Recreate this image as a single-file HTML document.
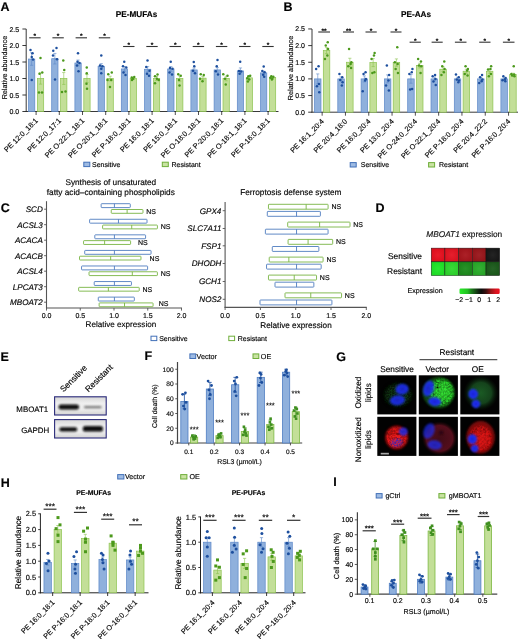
<!DOCTYPE html>
<html lang="en"><head><meta charset="utf-8"><title>Figure</title>
<style>
html,body{margin:0;padding:0;background:#fff;}
body{width:520px;height:639px;overflow:hidden;}
svg{display:block;font-family:"Liberation Sans",Arial,Helvetica,sans-serif;}
svg text{stroke:#111;stroke-width:0.16px;text-rendering:geometricPrecision;}
</style></head><body>
<svg width="520" height="639" viewBox="0 0 520 639">
<rect x="0" y="0" width="520" height="639" fill="#fff"/>
<text x="0.4" y="11" font-size="12.5" font-weight="bold" fill="#000">A</text>
<text x="136.5" y="17.1" font-size="8.2" text-anchor="middle" font-weight="bold">PE-MUFAs</text>
<line x1="26.2" y1="29" x2="26.2" y2="111.9" stroke="#222" stroke-width="0.9"/>
<line x1="25.8" y1="111.5" x2="278.5" y2="111.5" stroke="#222" stroke-width="0.9"/>
<line x1="22.4" y1="111.5" x2="26.2" y2="111.5" stroke="#222" stroke-width="0.9"/>
<text x="19.2" y="114" font-size="7" text-anchor="end">0.0</text>
<line x1="22.4" y1="95" x2="26.2" y2="95" stroke="#222" stroke-width="0.9"/>
<text x="19.2" y="97.5" font-size="7" text-anchor="end">0.5</text>
<line x1="22.4" y1="78.5" x2="26.2" y2="78.5" stroke="#222" stroke-width="0.9"/>
<text x="19.2" y="81" font-size="7" text-anchor="end">1.0</text>
<line x1="22.4" y1="62" x2="26.2" y2="62" stroke="#222" stroke-width="0.9"/>
<text x="19.2" y="64.5" font-size="7" text-anchor="end">1.5</text>
<line x1="22.4" y1="45.5" x2="26.2" y2="45.5" stroke="#222" stroke-width="0.9"/>
<text x="19.2" y="48" font-size="7" text-anchor="end">2.0</text>
<line x1="22.4" y1="29" x2="26.2" y2="29" stroke="#222" stroke-width="0.9"/>
<text x="19.2" y="31.5" font-size="7" text-anchor="end">2.5</text>
<text x="6.8" y="67.6" font-size="7.2" text-anchor="middle" transform="rotate(-90 6.8 67.6)">Relative abundance</text>
<rect x="28.5" y="59.03" width="6.3" height="52.47" fill="#8fb0dc" stroke="#5c88c8" stroke-width="0.7"/>
<line x1="31.65" y1="52.76" x2="31.65" y2="65.3" stroke="#5c88c8" stroke-width="0.6"/>
<line x1="30.05" y1="52.76" x2="33.25" y2="52.76" stroke="#5c88c8" stroke-width="0.6"/>
<line x1="30.05" y1="65.3" x2="33.25" y2="65.3" stroke="#5c88c8" stroke-width="0.6"/>
<circle cx="30.5" cy="50" r="1.25" fill="#1d4f9e"/>
<circle cx="32.5" cy="53.25" r="1.25" fill="#1d4f9e"/>
<circle cx="31.75" cy="57" r="1.25" fill="#1d4f9e"/>
<circle cx="33" cy="59.5" r="1.25" fill="#1d4f9e"/>
<circle cx="31.75" cy="80" r="1.25" fill="#1d4f9e"/>
<rect x="37.4" y="78.5" width="6.3" height="33" fill="#c3df98" stroke="#8cc34f" stroke-width="0.7"/>
<line x1="40.55" y1="72.89" x2="40.55" y2="84.11" stroke="#8cc34f" stroke-width="0.6"/>
<line x1="38.95" y1="72.89" x2="42.15" y2="72.89" stroke="#8cc34f" stroke-width="0.6"/>
<line x1="38.95" y1="84.11" x2="42.15" y2="84.11" stroke="#8cc34f" stroke-width="0.6"/>
<circle cx="40.5" cy="58" r="1.25" fill="#4c991c"/>
<circle cx="39.5" cy="73.75" r="1.25" fill="#4c991c"/>
<circle cx="42.25" cy="72.5" r="1.25" fill="#4c991c"/>
<circle cx="39" cy="92.5" r="1.25" fill="#4c991c"/>
<circle cx="42" cy="92.5" r="1.25" fill="#4c991c"/>
<line x1="36.1" y1="111.5" x2="36.1" y2="115" stroke="#222" stroke-width="0.8"/>
<text x="38.4" y="121.2" font-size="7.3" text-anchor="end" transform="rotate(-45 38.4 121.2)">PE 12:0_18:1</text>
<line x1="29.2" y1="37.8" x2="40.6" y2="37.8" stroke="#333" stroke-width="1.1"/>
<text x="34.9" y="37.8" font-size="6.6" text-anchor="middle" font-weight="bold" fill="#000">*</text>
<rect x="51.7" y="58.7" width="6.3" height="52.8" fill="#8fb0dc" stroke="#5c88c8" stroke-width="0.7"/>
<line x1="54.85" y1="53.42" x2="54.85" y2="63.98" stroke="#5c88c8" stroke-width="0.6"/>
<line x1="53.25" y1="53.42" x2="56.45" y2="53.42" stroke="#5c88c8" stroke-width="0.6"/>
<line x1="53.25" y1="63.98" x2="56.45" y2="63.98" stroke="#5c88c8" stroke-width="0.6"/>
<circle cx="56.5" cy="48" r="1.25" fill="#1d4f9e"/>
<circle cx="53.25" cy="50.75" r="1.25" fill="#1d4f9e"/>
<circle cx="53" cy="55.5" r="1.25" fill="#1d4f9e"/>
<circle cx="57" cy="59.25" r="1.25" fill="#1d4f9e"/>
<circle cx="55" cy="79.5" r="1.25" fill="#1d4f9e"/>
<rect x="60.6" y="78.5" width="6.3" height="33" fill="#c3df98" stroke="#8cc34f" stroke-width="0.7"/>
<line x1="63.75" y1="72.56" x2="63.75" y2="84.44" stroke="#8cc34f" stroke-width="0.6"/>
<line x1="62.15" y1="72.56" x2="65.35" y2="72.56" stroke="#8cc34f" stroke-width="0.6"/>
<line x1="62.15" y1="84.44" x2="65.35" y2="84.44" stroke="#8cc34f" stroke-width="0.6"/>
<circle cx="63.25" cy="60.5" r="1.25" fill="#4c991c"/>
<circle cx="64.25" cy="70" r="1.25" fill="#4c991c"/>
<circle cx="62" cy="92" r="1.25" fill="#4c991c"/>
<circle cx="65.5" cy="91.5" r="1.25" fill="#4c991c"/>
<line x1="59.3" y1="111.5" x2="59.3" y2="115" stroke="#222" stroke-width="0.8"/>
<text x="61.6" y="121.2" font-size="7.3" text-anchor="end" transform="rotate(-45 61.6 121.2)">PE 12:0_17:1</text>
<line x1="52.4" y1="37.8" x2="63.8" y2="37.8" stroke="#333" stroke-width="1.1"/>
<text x="58.1" y="37.8" font-size="6.6" text-anchor="middle" font-weight="bold" fill="#000">*</text>
<rect x="74.9" y="62.99" width="6.3" height="48.51" fill="#8fb0dc" stroke="#5c88c8" stroke-width="0.7"/>
<line x1="78.05" y1="60.02" x2="78.05" y2="65.96" stroke="#5c88c8" stroke-width="0.6"/>
<line x1="76.45" y1="60.02" x2="79.65" y2="60.02" stroke="#5c88c8" stroke-width="0.6"/>
<line x1="76.45" y1="65.96" x2="79.65" y2="65.96" stroke="#5c88c8" stroke-width="0.6"/>
<circle cx="78" cy="53.25" r="1.25" fill="#1d4f9e"/>
<circle cx="77.5" cy="61.75" r="1.25" fill="#1d4f9e"/>
<circle cx="79.5" cy="63" r="1.25" fill="#1d4f9e"/>
<circle cx="77" cy="65.5" r="1.25" fill="#1d4f9e"/>
<circle cx="78.5" cy="71.25" r="1.25" fill="#1d4f9e"/>
<rect x="83.8" y="78.5" width="6.3" height="33" fill="#c3df98" stroke="#8cc34f" stroke-width="0.7"/>
<line x1="86.95" y1="74.54" x2="86.95" y2="82.46" stroke="#8cc34f" stroke-width="0.6"/>
<line x1="85.35" y1="74.54" x2="88.55" y2="74.54" stroke="#8cc34f" stroke-width="0.6"/>
<line x1="85.35" y1="82.46" x2="88.55" y2="82.46" stroke="#8cc34f" stroke-width="0.6"/>
<circle cx="86.75" cy="67.5" r="1.25" fill="#4c991c"/>
<circle cx="86.75" cy="73.25" r="1.25" fill="#4c991c"/>
<circle cx="86.5" cy="83.75" r="1.25" fill="#4c991c"/>
<circle cx="87" cy="88.75" r="1.25" fill="#4c991c"/>
<line x1="82.5" y1="111.5" x2="82.5" y2="115" stroke="#222" stroke-width="0.8"/>
<text x="84.8" y="121.2" font-size="7.3" text-anchor="end" transform="rotate(-45 84.8 121.2)">PE O-22:1_18:1</text>
<line x1="75.6" y1="37.8" x2="87" y2="37.8" stroke="#333" stroke-width="1.1"/>
<text x="81.3" y="37.8" font-size="6.6" text-anchor="middle" font-weight="bold" fill="#000">*</text>
<rect x="98.1" y="66.29" width="6.3" height="45.21" fill="#8fb0dc" stroke="#5c88c8" stroke-width="0.7"/>
<line x1="101.25" y1="63.65" x2="101.25" y2="68.93" stroke="#5c88c8" stroke-width="0.6"/>
<line x1="99.65" y1="63.65" x2="102.85" y2="63.65" stroke="#5c88c8" stroke-width="0.6"/>
<line x1="99.65" y1="68.93" x2="102.85" y2="68.93" stroke="#5c88c8" stroke-width="0.6"/>
<circle cx="101.25" cy="55.5" r="1.25" fill="#1d4f9e"/>
<circle cx="100" cy="65.5" r="1.25" fill="#1d4f9e"/>
<circle cx="102.5" cy="66.25" r="1.25" fill="#1d4f9e"/>
<circle cx="101.25" cy="68.75" r="1.25" fill="#1d4f9e"/>
<circle cx="101.25" cy="73.25" r="1.25" fill="#1d4f9e"/>
<rect x="107" y="78.5" width="6.3" height="33" fill="#c3df98" stroke="#8cc34f" stroke-width="0.7"/>
<line x1="110.15" y1="76.19" x2="110.15" y2="80.81" stroke="#8cc34f" stroke-width="0.6"/>
<line x1="108.55" y1="76.19" x2="111.75" y2="76.19" stroke="#8cc34f" stroke-width="0.6"/>
<line x1="108.55" y1="80.81" x2="111.75" y2="80.81" stroke="#8cc34f" stroke-width="0.6"/>
<circle cx="111.75" cy="72.5" r="1.25" fill="#4c991c"/>
<circle cx="108.25" cy="74.25" r="1.25" fill="#4c991c"/>
<circle cx="107.5" cy="80" r="1.25" fill="#4c991c"/>
<circle cx="111.25" cy="80" r="1.25" fill="#4c991c"/>
<circle cx="110" cy="87" r="1.25" fill="#4c991c"/>
<line x1="105.7" y1="111.5" x2="105.7" y2="115" stroke="#222" stroke-width="0.8"/>
<text x="108" y="121.2" font-size="7.3" text-anchor="end" transform="rotate(-45 108 121.2)">PE O-20:1_18:1</text>
<line x1="98.8" y1="37.8" x2="110.2" y2="37.8" stroke="#333" stroke-width="1.1"/>
<text x="104.5" y="37.8" font-size="6.6" text-anchor="middle" font-weight="bold" fill="#000">*</text>
<rect x="121.3" y="68.93" width="6.3" height="42.57" fill="#8fb0dc" stroke="#5c88c8" stroke-width="0.7"/>
<line x1="124.45" y1="66.62" x2="124.45" y2="71.24" stroke="#5c88c8" stroke-width="0.6"/>
<line x1="122.85" y1="66.62" x2="126.05" y2="66.62" stroke="#5c88c8" stroke-width="0.6"/>
<line x1="122.85" y1="71.24" x2="126.05" y2="71.24" stroke="#5c88c8" stroke-width="0.6"/>
<circle cx="124.25" cy="61.75" r="1.25" fill="#1d4f9e"/>
<circle cx="123" cy="66.25" r="1.25" fill="#1d4f9e"/>
<circle cx="126.25" cy="67.5" r="1.25" fill="#1d4f9e"/>
<circle cx="123.5" cy="72.5" r="1.25" fill="#1d4f9e"/>
<circle cx="125.5" cy="75" r="1.25" fill="#1d4f9e"/>
<rect x="130.2" y="78.5" width="6.3" height="33" fill="#c3df98" stroke="#8cc34f" stroke-width="0.7"/>
<line x1="133.35" y1="77.51" x2="133.35" y2="79.49" stroke="#8cc34f" stroke-width="0.6"/>
<line x1="131.75" y1="77.51" x2="134.95" y2="77.51" stroke="#8cc34f" stroke-width="0.6"/>
<line x1="131.75" y1="79.49" x2="134.95" y2="79.49" stroke="#8cc34f" stroke-width="0.6"/>
<circle cx="131.75" cy="77.5" r="1.25" fill="#4c991c"/>
<circle cx="134.25" cy="77" r="1.25" fill="#4c991c"/>
<circle cx="133" cy="78.75" r="1.25" fill="#4c991c"/>
<circle cx="132" cy="80" r="1.25" fill="#4c991c"/>
<line x1="128.9" y1="111.5" x2="128.9" y2="115" stroke="#222" stroke-width="0.8"/>
<text x="131.2" y="121.2" font-size="7.3" text-anchor="end" transform="rotate(-45 131.2 121.2)">PE P-18:0_18:1</text>
<line x1="123.1" y1="46.5" x2="134.5" y2="46.5" stroke="#333" stroke-width="1.1"/>
<text x="128.8" y="46.5" font-size="6.6" text-anchor="middle" font-weight="bold" fill="#000">*</text>
<rect x="144.5" y="69.26" width="6.3" height="42.24" fill="#8fb0dc" stroke="#5c88c8" stroke-width="0.7"/>
<line x1="147.65" y1="66.62" x2="147.65" y2="71.9" stroke="#5c88c8" stroke-width="0.6"/>
<line x1="146.05" y1="66.62" x2="149.25" y2="66.62" stroke="#5c88c8" stroke-width="0.6"/>
<line x1="146.05" y1="71.9" x2="149.25" y2="71.9" stroke="#5c88c8" stroke-width="0.6"/>
<circle cx="147.5" cy="60.5" r="1.25" fill="#1d4f9e"/>
<circle cx="146.25" cy="67" r="1.25" fill="#1d4f9e"/>
<circle cx="149.5" cy="70.75" r="1.25" fill="#1d4f9e"/>
<circle cx="147" cy="73.75" r="1.25" fill="#1d4f9e"/>
<circle cx="149" cy="75.75" r="1.25" fill="#1d4f9e"/>
<rect x="153.4" y="78.5" width="6.3" height="33" fill="#c3df98" stroke="#8cc34f" stroke-width="0.7"/>
<line x1="156.55" y1="76.52" x2="156.55" y2="80.48" stroke="#8cc34f" stroke-width="0.6"/>
<line x1="154.95" y1="76.52" x2="158.15" y2="76.52" stroke="#8cc34f" stroke-width="0.6"/>
<line x1="154.95" y1="80.48" x2="158.15" y2="80.48" stroke="#8cc34f" stroke-width="0.6"/>
<circle cx="157.5" cy="74.5" r="1.25" fill="#4c991c"/>
<circle cx="155" cy="76.25" r="1.25" fill="#4c991c"/>
<circle cx="157" cy="78.75" r="1.25" fill="#4c991c"/>
<circle cx="158.75" cy="80" r="1.25" fill="#4c991c"/>
<circle cx="155" cy="83.25" r="1.25" fill="#4c991c"/>
<line x1="152.1" y1="111.5" x2="152.1" y2="115" stroke="#222" stroke-width="0.8"/>
<text x="154.4" y="121.2" font-size="7.3" text-anchor="end" transform="rotate(-45 154.4 121.2)">PE 16:0_18:1</text>
<line x1="146.3" y1="46.5" x2="157.7" y2="46.5" stroke="#333" stroke-width="1.1"/>
<text x="152" y="46.5" font-size="6.6" text-anchor="middle" font-weight="bold" fill="#000">*</text>
<rect x="167.7" y="68.93" width="6.3" height="42.57" fill="#8fb0dc" stroke="#5c88c8" stroke-width="0.7"/>
<line x1="170.85" y1="66.62" x2="170.85" y2="71.24" stroke="#5c88c8" stroke-width="0.6"/>
<line x1="169.25" y1="66.62" x2="172.45" y2="66.62" stroke="#5c88c8" stroke-width="0.6"/>
<line x1="169.25" y1="71.24" x2="172.45" y2="71.24" stroke="#5c88c8" stroke-width="0.6"/>
<circle cx="170.75" cy="61.75" r="1.25" fill="#1d4f9e"/>
<circle cx="170" cy="68" r="1.25" fill="#1d4f9e"/>
<circle cx="172.5" cy="68.75" r="1.25" fill="#1d4f9e"/>
<circle cx="169.5" cy="72.5" r="1.25" fill="#1d4f9e"/>
<circle cx="172" cy="74.5" r="1.25" fill="#1d4f9e"/>
<rect x="176.6" y="78.5" width="6.3" height="33" fill="#c3df98" stroke="#8cc34f" stroke-width="0.7"/>
<line x1="179.75" y1="75.86" x2="179.75" y2="81.14" stroke="#8cc34f" stroke-width="0.6"/>
<line x1="178.15" y1="75.86" x2="181.35" y2="75.86" stroke="#8cc34f" stroke-width="0.6"/>
<line x1="178.15" y1="81.14" x2="181.35" y2="81.14" stroke="#8cc34f" stroke-width="0.6"/>
<circle cx="178.25" cy="74.25" r="1.25" fill="#4c991c"/>
<circle cx="180.75" cy="75.75" r="1.25" fill="#4c991c"/>
<circle cx="179" cy="80" r="1.25" fill="#4c991c"/>
<circle cx="179.5" cy="85.5" r="1.25" fill="#4c991c"/>
<line x1="175.3" y1="111.5" x2="175.3" y2="115" stroke="#222" stroke-width="0.8"/>
<text x="177.6" y="121.2" font-size="7.3" text-anchor="end" transform="rotate(-45 177.6 121.2)">PE 15:0_18:1</text>
<line x1="169.5" y1="46.5" x2="180.9" y2="46.5" stroke="#333" stroke-width="1.1"/>
<text x="175.2" y="46.5" font-size="6.6" text-anchor="middle" font-weight="bold" fill="#000">*</text>
<rect x="190.9" y="69.92" width="6.3" height="41.58" fill="#8fb0dc" stroke="#5c88c8" stroke-width="0.7"/>
<line x1="194.05" y1="67.94" x2="194.05" y2="71.9" stroke="#5c88c8" stroke-width="0.6"/>
<line x1="192.45" y1="67.94" x2="195.65" y2="67.94" stroke="#5c88c8" stroke-width="0.6"/>
<line x1="192.45" y1="71.9" x2="195.65" y2="71.9" stroke="#5c88c8" stroke-width="0.6"/>
<circle cx="193.75" cy="62" r="1.25" fill="#1d4f9e"/>
<circle cx="194.25" cy="66.25" r="1.25" fill="#1d4f9e"/>
<circle cx="193" cy="70.75" r="1.25" fill="#1d4f9e"/>
<circle cx="195" cy="73.25" r="1.25" fill="#1d4f9e"/>
<rect x="199.8" y="78.17" width="6.3" height="33.33" fill="#c3df98" stroke="#8cc34f" stroke-width="0.7"/>
<line x1="202.95" y1="76.52" x2="202.95" y2="79.82" stroke="#8cc34f" stroke-width="0.6"/>
<line x1="201.35" y1="76.52" x2="204.55" y2="76.52" stroke="#8cc34f" stroke-width="0.6"/>
<line x1="201.35" y1="79.82" x2="204.55" y2="79.82" stroke="#8cc34f" stroke-width="0.6"/>
<circle cx="200.75" cy="74.25" r="1.25" fill="#4c991c"/>
<circle cx="203.75" cy="75" r="1.25" fill="#4c991c"/>
<circle cx="200" cy="78.75" r="1.25" fill="#4c991c"/>
<circle cx="202.5" cy="81.25" r="1.25" fill="#4c991c"/>
<line x1="198.5" y1="111.5" x2="198.5" y2="115" stroke="#222" stroke-width="0.8"/>
<text x="200.8" y="121.2" font-size="7.3" text-anchor="end" transform="rotate(-45 200.8 121.2)">PE O-18:0_18:1</text>
<line x1="192.7" y1="46.5" x2="204.1" y2="46.5" stroke="#333" stroke-width="1.1"/>
<text x="198.4" y="46.5" font-size="6.6" text-anchor="middle" font-weight="bold" fill="#000">*</text>
<rect x="214.1" y="69.92" width="6.3" height="41.58" fill="#8fb0dc" stroke="#5c88c8" stroke-width="0.7"/>
<line x1="217.25" y1="67.61" x2="217.25" y2="72.23" stroke="#5c88c8" stroke-width="0.6"/>
<line x1="215.65" y1="67.61" x2="218.85" y2="67.61" stroke="#5c88c8" stroke-width="0.6"/>
<line x1="215.65" y1="72.23" x2="218.85" y2="72.23" stroke="#5c88c8" stroke-width="0.6"/>
<circle cx="217.5" cy="60" r="1.25" fill="#1d4f9e"/>
<circle cx="216.75" cy="66.25" r="1.25" fill="#1d4f9e"/>
<circle cx="215.75" cy="71.25" r="1.25" fill="#1d4f9e"/>
<circle cx="218" cy="74.5" r="1.25" fill="#1d4f9e"/>
<rect x="223" y="78.5" width="6.3" height="33" fill="#c3df98" stroke="#8cc34f" stroke-width="0.7"/>
<line x1="226.15" y1="76.19" x2="226.15" y2="80.81" stroke="#8cc34f" stroke-width="0.6"/>
<line x1="224.55" y1="76.19" x2="227.75" y2="76.19" stroke="#8cc34f" stroke-width="0.6"/>
<line x1="224.55" y1="80.81" x2="227.75" y2="80.81" stroke="#8cc34f" stroke-width="0.6"/>
<circle cx="223.25" cy="74.25" r="1.25" fill="#4c991c"/>
<circle cx="227.5" cy="75.75" r="1.25" fill="#4c991c"/>
<circle cx="225" cy="78.75" r="1.25" fill="#4c991c"/>
<circle cx="225.75" cy="84.5" r="1.25" fill="#4c991c"/>
<line x1="221.7" y1="111.5" x2="221.7" y2="115" stroke="#222" stroke-width="0.8"/>
<text x="224" y="121.2" font-size="7.3" text-anchor="end" transform="rotate(-45 224 121.2)">PE P-20:0_18:1</text>
<line x1="215.9" y1="46.5" x2="227.3" y2="46.5" stroke="#333" stroke-width="1.1"/>
<text x="221.6" y="46.5" font-size="6.6" text-anchor="middle" font-weight="bold" fill="#000">*</text>
<rect x="237.3" y="70.91" width="6.3" height="40.59" fill="#8fb0dc" stroke="#5c88c8" stroke-width="0.7"/>
<line x1="240.45" y1="67.94" x2="240.45" y2="73.88" stroke="#5c88c8" stroke-width="0.6"/>
<line x1="238.85" y1="67.94" x2="242.05" y2="67.94" stroke="#5c88c8" stroke-width="0.6"/>
<line x1="238.85" y1="73.88" x2="242.05" y2="73.88" stroke="#5c88c8" stroke-width="0.6"/>
<circle cx="240.2" cy="61.7" r="1.25" fill="#1d4f9e"/>
<circle cx="239" cy="71" r="1.25" fill="#1d4f9e"/>
<circle cx="241.2" cy="71.5" r="1.25" fill="#1d4f9e"/>
<circle cx="239.6" cy="73.8" r="1.25" fill="#1d4f9e"/>
<rect x="246.2" y="77.84" width="6.3" height="33.66" fill="#c3df98" stroke="#8cc34f" stroke-width="0.7"/>
<line x1="249.35" y1="76.52" x2="249.35" y2="79.16" stroke="#8cc34f" stroke-width="0.6"/>
<line x1="247.75" y1="76.52" x2="250.95" y2="76.52" stroke="#8cc34f" stroke-width="0.6"/>
<line x1="247.75" y1="79.16" x2="250.95" y2="79.16" stroke="#8cc34f" stroke-width="0.6"/>
<circle cx="248.3" cy="76.2" r="1.25" fill="#4c991c"/>
<circle cx="250.2" cy="75.8" r="1.25" fill="#4c991c"/>
<circle cx="247.3" cy="78.3" r="1.25" fill="#4c991c"/>
<circle cx="249.2" cy="79.6" r="1.25" fill="#4c991c"/>
<circle cx="247.9" cy="81.5" r="1.25" fill="#4c991c"/>
<line x1="244.9" y1="111.5" x2="244.9" y2="115" stroke="#222" stroke-width="0.8"/>
<text x="247.2" y="121.2" font-size="7.3" text-anchor="end" transform="rotate(-45 247.2 121.2)">PE O-18:1_18:1</text>
<line x1="239.1" y1="46.5" x2="250.5" y2="46.5" stroke="#333" stroke-width="1.1"/>
<text x="244.8" y="46.5" font-size="6.6" text-anchor="middle" font-weight="bold" fill="#000">*</text>
<rect x="260.5" y="72.89" width="6.3" height="38.61" fill="#8fb0dc" stroke="#5c88c8" stroke-width="0.7"/>
<line x1="263.65" y1="71.24" x2="263.65" y2="74.54" stroke="#5c88c8" stroke-width="0.6"/>
<line x1="262.05" y1="71.24" x2="265.25" y2="71.24" stroke="#5c88c8" stroke-width="0.6"/>
<line x1="262.05" y1="74.54" x2="265.25" y2="74.54" stroke="#5c88c8" stroke-width="0.6"/>
<circle cx="263.7" cy="66.5" r="1.25" fill="#1d4f9e"/>
<circle cx="262.3" cy="71" r="1.25" fill="#1d4f9e"/>
<circle cx="264.6" cy="72.3" r="1.25" fill="#1d4f9e"/>
<circle cx="263.1" cy="74.8" r="1.25" fill="#1d4f9e"/>
<circle cx="264.2" cy="76.7" r="1.25" fill="#1d4f9e"/>
<rect x="269.4" y="77.51" width="6.3" height="33.99" fill="#c3df98" stroke="#8cc34f" stroke-width="0.7"/>
<line x1="272.55" y1="76.85" x2="272.55" y2="78.17" stroke="#8cc34f" stroke-width="0.6"/>
<line x1="270.95" y1="76.85" x2="274.15" y2="76.85" stroke="#8cc34f" stroke-width="0.6"/>
<line x1="270.95" y1="78.17" x2="274.15" y2="78.17" stroke="#8cc34f" stroke-width="0.6"/>
<circle cx="271.3" cy="76.3" r="1.25" fill="#4c991c"/>
<circle cx="273.3" cy="76.7" r="1.25" fill="#4c991c"/>
<circle cx="270.4" cy="77.7" r="1.25" fill="#4c991c"/>
<circle cx="272.3" cy="78.7" r="1.25" fill="#4c991c"/>
<circle cx="271.9" cy="79.6" r="1.25" fill="#4c991c"/>
<line x1="268.1" y1="111.5" x2="268.1" y2="115" stroke="#222" stroke-width="0.8"/>
<text x="270.4" y="121.2" font-size="7.3" text-anchor="end" transform="rotate(-45 270.4 121.2)">PE P-16:0_18:1</text>
<line x1="262.3" y1="46.5" x2="273.7" y2="46.5" stroke="#333" stroke-width="1.1"/>
<text x="268" y="46.5" font-size="6.6" text-anchor="middle" font-weight="bold" fill="#000">*</text>
<rect x="83.8" y="162.2" width="6" height="4.4" fill="#9ebbe3" stroke="#4270b8" stroke-width="1"/>
<text x="92" y="166.6" font-size="7">Sensitive</text>
<rect x="162.3" y="162.2" width="6" height="4.4" fill="#c9e3a2" stroke="#6fae3a" stroke-width="1"/>
<text x="171.5" y="166.6" font-size="7">Resistant</text>
<text x="283.6" y="11" font-size="12.5" font-weight="bold" fill="#000">B</text>
<text x="416" y="17.1" font-size="8.2" text-anchor="middle" font-weight="bold">PE-AAs</text>
<line x1="312" y1="29" x2="312" y2="112.6" stroke="#222" stroke-width="0.9"/>
<line x1="311.6" y1="112.2" x2="518" y2="112.2" stroke="#222" stroke-width="0.9"/>
<line x1="308.2" y1="112.2" x2="312" y2="112.2" stroke="#222" stroke-width="0.9"/>
<text x="305" y="114.7" font-size="7" text-anchor="end">0.0</text>
<line x1="308.2" y1="95.55" x2="312" y2="95.55" stroke="#222" stroke-width="0.9"/>
<text x="305" y="98.05" font-size="7" text-anchor="end">0.5</text>
<line x1="308.2" y1="78.9" x2="312" y2="78.9" stroke="#222" stroke-width="0.9"/>
<text x="305" y="81.4" font-size="7" text-anchor="end">1.0</text>
<line x1="308.2" y1="62.25" x2="312" y2="62.25" stroke="#222" stroke-width="0.9"/>
<text x="305" y="64.75" font-size="7" text-anchor="end">1.5</text>
<line x1="308.2" y1="45.6" x2="312" y2="45.6" stroke="#222" stroke-width="0.9"/>
<text x="305" y="48.1" font-size="7" text-anchor="end">2.0</text>
<line x1="308.2" y1="28.95" x2="312" y2="28.95" stroke="#222" stroke-width="0.9"/>
<text x="305" y="31.45" font-size="7" text-anchor="end">2.5</text>
<text x="293" y="68" font-size="7.3" text-anchor="middle" transform="rotate(-90 293 68)">Relative abundance</text>
<rect x="314.5" y="78.9" width="6.5" height="33.3" fill="#8fb0dc" stroke="#5c88c8" stroke-width="0.7"/>
<line x1="317.75" y1="73.91" x2="317.75" y2="83.9" stroke="#5c88c8" stroke-width="0.6"/>
<line x1="316.15" y1="73.91" x2="319.35" y2="73.91" stroke="#5c88c8" stroke-width="0.6"/>
<line x1="316.15" y1="83.9" x2="319.35" y2="83.9" stroke="#5c88c8" stroke-width="0.6"/>
<circle cx="318.55" cy="66.25" r="1.25" fill="#1d4f9e"/>
<circle cx="316.15" cy="68.91" r="1.25" fill="#1d4f9e"/>
<circle cx="318.95" cy="83.9" r="1.25" fill="#1d4f9e"/>
<circle cx="316.95" cy="86.23" r="1.25" fill="#1d4f9e"/>
<circle cx="319.25" cy="92.22" r="1.25" fill="#1d4f9e"/>
<rect x="323.3" y="50.6" width="6.5" height="61.6" fill="#c3df98" stroke="#8cc34f" stroke-width="0.7"/>
<line x1="326.55" y1="47.6" x2="326.55" y2="53.59" stroke="#8cc34f" stroke-width="0.6"/>
<line x1="324.95" y1="47.6" x2="328.15" y2="47.6" stroke="#8cc34f" stroke-width="0.6"/>
<line x1="324.95" y1="53.59" x2="328.15" y2="53.59" stroke="#8cc34f" stroke-width="0.6"/>
<circle cx="327.75" cy="42.27" r="1.25" fill="#4c991c"/>
<circle cx="325.75" cy="45.6" r="1.25" fill="#4c991c"/>
<circle cx="328.05" cy="48.93" r="1.25" fill="#4c991c"/>
<circle cx="327.35" cy="55.59" r="1.25" fill="#4c991c"/>
<circle cx="324.95" cy="58.92" r="1.25" fill="#4c991c"/>
<line x1="322.15" y1="112.2" x2="322.15" y2="115.7" stroke="#222" stroke-width="0.8"/>
<text x="324.45" y="121.9" font-size="7.3" text-anchor="end" transform="rotate(-45 324.45 121.9)">PE 16:1_20:4</text>
<line x1="318.25" y1="32" x2="330" y2="32" stroke="#333" stroke-width="1.1"/>
<text x="324.12" y="32.9" font-size="6.6" text-anchor="middle" font-weight="bold" fill="#000">**</text>
<rect x="337.8" y="78.9" width="6.5" height="33.3" fill="#8fb0dc" stroke="#5c88c8" stroke-width="0.7"/>
<line x1="341.05" y1="76.9" x2="341.05" y2="80.9" stroke="#5c88c8" stroke-width="0.6"/>
<line x1="339.45" y1="76.9" x2="342.65" y2="76.9" stroke="#5c88c8" stroke-width="0.6"/>
<line x1="339.45" y1="80.9" x2="342.65" y2="80.9" stroke="#5c88c8" stroke-width="0.6"/>
<circle cx="339.45" cy="73.91" r="1.25" fill="#1d4f9e"/>
<circle cx="342.25" cy="77.24" r="1.25" fill="#1d4f9e"/>
<circle cx="340.25" cy="79.9" r="1.25" fill="#1d4f9e"/>
<circle cx="342.55" cy="82.23" r="1.25" fill="#1d4f9e"/>
<circle cx="341.85" cy="85.56" r="1.25" fill="#1d4f9e"/>
<rect x="346.6" y="62.25" width="6.5" height="49.95" fill="#c3df98" stroke="#8cc34f" stroke-width="0.7"/>
<line x1="349.85" y1="58.25" x2="349.85" y2="66.25" stroke="#8cc34f" stroke-width="0.6"/>
<line x1="348.25" y1="58.25" x2="351.45" y2="58.25" stroke="#8cc34f" stroke-width="0.6"/>
<line x1="348.25" y1="66.25" x2="351.45" y2="66.25" stroke="#8cc34f" stroke-width="0.6"/>
<circle cx="349.05" cy="48.93" r="1.25" fill="#4c991c"/>
<circle cx="351.35" cy="62.25" r="1.25" fill="#4c991c"/>
<circle cx="350.65" cy="63.92" r="1.25" fill="#4c991c"/>
<circle cx="348.25" cy="66.25" r="1.25" fill="#4c991c"/>
<circle cx="351.05" cy="67.91" r="1.25" fill="#4c991c"/>
<line x1="345.45" y1="112.2" x2="345.45" y2="115.7" stroke="#222" stroke-width="0.8"/>
<text x="347.75" y="121.9" font-size="7.3" text-anchor="end" transform="rotate(-45 347.75 121.9)">PE 20:4_18:0</text>
<line x1="343" y1="32" x2="354" y2="32" stroke="#333" stroke-width="1.1"/>
<text x="348.5" y="32.9" font-size="6.6" text-anchor="middle" font-weight="bold" fill="#000">**</text>
<rect x="361.1" y="78.9" width="6.5" height="33.3" fill="#8fb0dc" stroke="#5c88c8" stroke-width="0.7"/>
<line x1="364.35" y1="75.9" x2="364.35" y2="81.9" stroke="#5c88c8" stroke-width="0.6"/>
<line x1="362.75" y1="75.9" x2="365.95" y2="75.9" stroke="#5c88c8" stroke-width="0.6"/>
<line x1="362.75" y1="81.9" x2="365.95" y2="81.9" stroke="#5c88c8" stroke-width="0.6"/>
<circle cx="365.55" cy="72.24" r="1.25" fill="#1d4f9e"/>
<circle cx="363.55" cy="73.91" r="1.25" fill="#1d4f9e"/>
<circle cx="365.85" cy="78.9" r="1.25" fill="#1d4f9e"/>
<circle cx="365.15" cy="80.57" r="1.25" fill="#1d4f9e"/>
<circle cx="362.75" cy="91.22" r="1.25" fill="#1d4f9e"/>
<rect x="369.9" y="62.58" width="6.5" height="49.62" fill="#c3df98" stroke="#8cc34f" stroke-width="0.7"/>
<line x1="373.15" y1="58.59" x2="373.15" y2="66.58" stroke="#8cc34f" stroke-width="0.6"/>
<line x1="371.55" y1="58.59" x2="374.75" y2="58.59" stroke="#8cc34f" stroke-width="0.6"/>
<line x1="371.55" y1="66.58" x2="374.75" y2="66.58" stroke="#8cc34f" stroke-width="0.6"/>
<circle cx="374.65" cy="52.93" r="1.25" fill="#4c991c"/>
<circle cx="373.95" cy="55.59" r="1.25" fill="#4c991c"/>
<circle cx="371.55" cy="58.92" r="1.25" fill="#4c991c"/>
<circle cx="374.35" cy="72.24" r="1.25" fill="#4c991c"/>
<circle cx="372.35" cy="72.91" r="1.25" fill="#4c991c"/>
<line x1="368.75" y1="112.2" x2="368.75" y2="115.7" stroke="#222" stroke-width="0.8"/>
<text x="371.05" y="121.9" font-size="7.3" text-anchor="end" transform="rotate(-45 371.05 121.9)">PE 16:0_20:4</text>
<line x1="365.5" y1="32" x2="376.75" y2="32" stroke="#333" stroke-width="1.1"/>
<text x="371.12" y="32.9" font-size="6.6" text-anchor="middle" font-weight="bold" fill="#000">*</text>
<rect x="384.4" y="78.9" width="6.5" height="33.3" fill="#8fb0dc" stroke="#5c88c8" stroke-width="0.7"/>
<line x1="387.65" y1="74.9" x2="387.65" y2="82.9" stroke="#5c88c8" stroke-width="0.6"/>
<line x1="386.05" y1="74.9" x2="389.25" y2="74.9" stroke="#5c88c8" stroke-width="0.6"/>
<line x1="386.05" y1="82.9" x2="389.25" y2="82.9" stroke="#5c88c8" stroke-width="0.6"/>
<circle cx="386.85" cy="65.58" r="1.25" fill="#1d4f9e"/>
<circle cx="389.15" cy="74.9" r="1.25" fill="#1d4f9e"/>
<circle cx="388.45" cy="80.57" r="1.25" fill="#1d4f9e"/>
<circle cx="386.05" cy="85.56" r="1.25" fill="#1d4f9e"/>
<circle cx="388.85" cy="90.56" r="1.25" fill="#1d4f9e"/>
<rect x="393.2" y="62.58" width="6.5" height="49.62" fill="#c3df98" stroke="#8cc34f" stroke-width="0.7"/>
<line x1="396.45" y1="58.92" x2="396.45" y2="66.25" stroke="#8cc34f" stroke-width="0.6"/>
<line x1="394.85" y1="58.92" x2="398.05" y2="58.92" stroke="#8cc34f" stroke-width="0.6"/>
<line x1="394.85" y1="66.25" x2="398.05" y2="66.25" stroke="#8cc34f" stroke-width="0.6"/>
<circle cx="397.25" cy="47.27" r="1.25" fill="#4c991c"/>
<circle cx="394.85" cy="62.25" r="1.25" fill="#4c991c"/>
<circle cx="397.65" cy="63.92" r="1.25" fill="#4c991c"/>
<circle cx="395.65" cy="68.91" r="1.25" fill="#4c991c"/>
<circle cx="397.95" cy="72.91" r="1.25" fill="#4c991c"/>
<line x1="392.05" y1="112.2" x2="392.05" y2="115.7" stroke="#222" stroke-width="0.8"/>
<text x="394.35" y="121.9" font-size="7.3" text-anchor="end" transform="rotate(-45 394.35 121.9)">PE 13:0_20:4</text>
<line x1="390.5" y1="32" x2="401.5" y2="32" stroke="#333" stroke-width="1.1"/>
<text x="396" y="32.9" font-size="6.6" text-anchor="middle" font-weight="bold" fill="#000">*</text>
<rect x="407.7" y="78.9" width="6.5" height="33.3" fill="#8fb0dc" stroke="#5c88c8" stroke-width="0.7"/>
<line x1="410.95" y1="74.57" x2="410.95" y2="83.23" stroke="#5c88c8" stroke-width="0.6"/>
<line x1="409.35" y1="74.57" x2="412.55" y2="74.57" stroke="#5c88c8" stroke-width="0.6"/>
<line x1="409.35" y1="83.23" x2="412.55" y2="83.23" stroke="#5c88c8" stroke-width="0.6"/>
<circle cx="412.45" cy="68.91" r="1.25" fill="#1d4f9e"/>
<circle cx="411.75" cy="72.24" r="1.25" fill="#1d4f9e"/>
<circle cx="409.35" cy="73.91" r="1.25" fill="#1d4f9e"/>
<circle cx="412.15" cy="88.89" r="1.25" fill="#1d4f9e"/>
<circle cx="410.15" cy="89.56" r="1.25" fill="#1d4f9e"/>
<rect x="416.5" y="65.58" width="6.5" height="46.62" fill="#c3df98" stroke="#8cc34f" stroke-width="0.7"/>
<line x1="419.75" y1="63.25" x2="419.75" y2="67.91" stroke="#8cc34f" stroke-width="0.6"/>
<line x1="418.15" y1="63.25" x2="421.35" y2="63.25" stroke="#8cc34f" stroke-width="0.6"/>
<line x1="418.15" y1="67.91" x2="421.35" y2="67.91" stroke="#8cc34f" stroke-width="0.6"/>
<circle cx="418.15" cy="58.92" r="1.25" fill="#4c991c"/>
<circle cx="420.95" cy="61.58" r="1.25" fill="#4c991c"/>
<circle cx="418.95" cy="65.58" r="1.25" fill="#4c991c"/>
<circle cx="421.25" cy="66.25" r="1.25" fill="#4c991c"/>
<circle cx="420.55" cy="72.91" r="1.25" fill="#4c991c"/>
<line x1="415.35" y1="112.2" x2="415.35" y2="115.7" stroke="#222" stroke-width="0.8"/>
<text x="417.65" y="121.9" font-size="7.3" text-anchor="end" transform="rotate(-45 417.65 121.9)">PE O-24:0_20:4</text>
<line x1="409.6" y1="42.2" x2="420.8" y2="42.2" stroke="#333" stroke-width="1.1"/>
<text x="415.2" y="43.1" font-size="6.6" text-anchor="middle" font-weight="bold" fill="#000">*</text>
<rect x="431" y="78.9" width="6.5" height="33.3" fill="#8fb0dc" stroke="#5c88c8" stroke-width="0.7"/>
<line x1="434.25" y1="76.9" x2="434.25" y2="80.9" stroke="#5c88c8" stroke-width="0.6"/>
<line x1="432.65" y1="76.9" x2="435.85" y2="76.9" stroke="#5c88c8" stroke-width="0.6"/>
<line x1="432.65" y1="80.9" x2="435.85" y2="80.9" stroke="#5c88c8" stroke-width="0.6"/>
<circle cx="435.05" cy="74.9" r="1.25" fill="#1d4f9e"/>
<circle cx="432.65" cy="76.24" r="1.25" fill="#1d4f9e"/>
<circle cx="435.45" cy="78.9" r="1.25" fill="#1d4f9e"/>
<circle cx="433.45" cy="81.56" r="1.25" fill="#1d4f9e"/>
<circle cx="435.75" cy="84.89" r="1.25" fill="#1d4f9e"/>
<rect x="439.8" y="69.24" width="6.5" height="42.96" fill="#c3df98" stroke="#8cc34f" stroke-width="0.7"/>
<line x1="443.05" y1="66.91" x2="443.05" y2="71.57" stroke="#8cc34f" stroke-width="0.6"/>
<line x1="441.45" y1="66.91" x2="444.65" y2="66.91" stroke="#8cc34f" stroke-width="0.6"/>
<line x1="441.45" y1="71.57" x2="444.65" y2="71.57" stroke="#8cc34f" stroke-width="0.6"/>
<circle cx="444.25" cy="61.58" r="1.25" fill="#4c991c"/>
<circle cx="442.25" cy="66.25" r="1.25" fill="#4c991c"/>
<circle cx="444.55" cy="68.91" r="1.25" fill="#4c991c"/>
<circle cx="443.85" cy="72.24" r="1.25" fill="#4c991c"/>
<circle cx="441.45" cy="74.9" r="1.25" fill="#4c991c"/>
<line x1="438.65" y1="112.2" x2="438.65" y2="115.7" stroke="#222" stroke-width="0.8"/>
<text x="440.95" y="121.9" font-size="7.3" text-anchor="end" transform="rotate(-45 440.95 121.9)">PE O-22:1_20:4</text>
<line x1="431.6" y1="42.2" x2="442.7" y2="42.2" stroke="#333" stroke-width="1.1"/>
<text x="437.15" y="43.1" font-size="6.6" text-anchor="middle" font-weight="bold" fill="#000">*</text>
<rect x="454.3" y="78.9" width="6.5" height="33.3" fill="#8fb0dc" stroke="#5c88c8" stroke-width="0.7"/>
<line x1="457.55" y1="77.23" x2="457.55" y2="80.57" stroke="#5c88c8" stroke-width="0.6"/>
<line x1="455.95" y1="77.23" x2="459.15" y2="77.23" stroke="#5c88c8" stroke-width="0.6"/>
<line x1="455.95" y1="80.57" x2="459.15" y2="80.57" stroke="#5c88c8" stroke-width="0.6"/>
<circle cx="455.95" cy="74.57" r="1.25" fill="#1d4f9e"/>
<circle cx="458.75" cy="77.24" r="1.25" fill="#1d4f9e"/>
<circle cx="456.75" cy="79.57" r="1.25" fill="#1d4f9e"/>
<circle cx="459.05" cy="80.57" r="1.25" fill="#1d4f9e"/>
<circle cx="458.35" cy="82.23" r="1.25" fill="#1d4f9e"/>
<rect x="463.1" y="71.24" width="6.5" height="40.96" fill="#c3df98" stroke="#8cc34f" stroke-width="0.7"/>
<line x1="466.35" y1="69.24" x2="466.35" y2="73.24" stroke="#8cc34f" stroke-width="0.6"/>
<line x1="464.75" y1="69.24" x2="467.95" y2="69.24" stroke="#8cc34f" stroke-width="0.6"/>
<line x1="464.75" y1="73.24" x2="467.95" y2="73.24" stroke="#8cc34f" stroke-width="0.6"/>
<circle cx="465.55" cy="66.25" r="1.25" fill="#4c991c"/>
<circle cx="467.85" cy="68.91" r="1.25" fill="#4c991c"/>
<circle cx="467.15" cy="70.58" r="1.25" fill="#4c991c"/>
<circle cx="464.75" cy="73.91" r="1.25" fill="#4c991c"/>
<circle cx="467.55" cy="75.57" r="1.25" fill="#4c991c"/>
<line x1="461.95" y1="112.2" x2="461.95" y2="115.7" stroke="#222" stroke-width="0.8"/>
<text x="464.25" y="121.9" font-size="7.3" text-anchor="end" transform="rotate(-45 464.25 121.9)">PE P-18:0_20:4</text>
<line x1="454.9" y1="42.2" x2="466.5" y2="42.2" stroke="#333" stroke-width="1.1"/>
<text x="460.7" y="43.1" font-size="6.6" text-anchor="middle" font-weight="bold" fill="#000">*</text>
<rect x="477.6" y="78.9" width="6.5" height="33.3" fill="#8fb0dc" stroke="#5c88c8" stroke-width="0.7"/>
<line x1="480.85" y1="77.23" x2="480.85" y2="80.57" stroke="#5c88c8" stroke-width="0.6"/>
<line x1="479.25" y1="77.23" x2="482.45" y2="77.23" stroke="#5c88c8" stroke-width="0.6"/>
<line x1="479.25" y1="80.57" x2="482.45" y2="80.57" stroke="#5c88c8" stroke-width="0.6"/>
<circle cx="482.05" cy="74.9" r="1.25" fill="#1d4f9e"/>
<circle cx="480.05" cy="77.24" r="1.25" fill="#1d4f9e"/>
<circle cx="482.35" cy="79.57" r="1.25" fill="#1d4f9e"/>
<circle cx="481.65" cy="81.23" r="1.25" fill="#1d4f9e"/>
<circle cx="479.25" cy="82.9" r="1.25" fill="#1d4f9e"/>
<rect x="486.4" y="71.24" width="6.5" height="40.96" fill="#c3df98" stroke="#8cc34f" stroke-width="0.7"/>
<line x1="489.65" y1="69.24" x2="489.65" y2="73.24" stroke="#8cc34f" stroke-width="0.6"/>
<line x1="488.05" y1="69.24" x2="491.25" y2="69.24" stroke="#8cc34f" stroke-width="0.6"/>
<line x1="488.05" y1="73.24" x2="491.25" y2="73.24" stroke="#8cc34f" stroke-width="0.6"/>
<circle cx="491.15" cy="66.25" r="1.25" fill="#4c991c"/>
<circle cx="490.45" cy="68.91" r="1.25" fill="#4c991c"/>
<circle cx="488.05" cy="69.58" r="1.25" fill="#4c991c"/>
<circle cx="490.85" cy="73.91" r="1.25" fill="#4c991c"/>
<circle cx="488.85" cy="76.24" r="1.25" fill="#4c991c"/>
<line x1="485.25" y1="112.2" x2="485.25" y2="115.7" stroke="#222" stroke-width="0.8"/>
<text x="487.55" y="121.9" font-size="7.3" text-anchor="end" transform="rotate(-45 487.55 121.9)">PE 20:4_22:2</text>
<line x1="479.2" y1="42.2" x2="490.5" y2="42.2" stroke="#333" stroke-width="1.1"/>
<text x="484.85" y="43.1" font-size="6.6" text-anchor="middle" font-weight="bold" fill="#000">*</text>
<rect x="500.9" y="78.9" width="6.5" height="33.3" fill="#8fb0dc" stroke="#5c88c8" stroke-width="0.7"/>
<line x1="504.15" y1="77.9" x2="504.15" y2="79.9" stroke="#5c88c8" stroke-width="0.6"/>
<line x1="502.55" y1="77.9" x2="505.75" y2="77.9" stroke="#5c88c8" stroke-width="0.6"/>
<line x1="502.55" y1="79.9" x2="505.75" y2="79.9" stroke="#5c88c8" stroke-width="0.6"/>
<circle cx="503.35" cy="76.24" r="1.25" fill="#1d4f9e"/>
<circle cx="505.65" cy="77.9" r="1.25" fill="#1d4f9e"/>
<circle cx="504.95" cy="79.57" r="1.25" fill="#1d4f9e"/>
<circle cx="502.55" cy="80.23" r="1.25" fill="#1d4f9e"/>
<circle cx="505.35" cy="81.23" r="1.25" fill="#1d4f9e"/>
<rect x="509.7" y="74.57" width="6.5" height="37.63" fill="#c3df98" stroke="#8cc34f" stroke-width="0.7"/>
<line x1="512.95" y1="73.24" x2="512.95" y2="75.9" stroke="#8cc34f" stroke-width="0.6"/>
<line x1="511.35" y1="73.24" x2="514.55" y2="73.24" stroke="#8cc34f" stroke-width="0.6"/>
<line x1="511.35" y1="75.9" x2="514.55" y2="75.9" stroke="#8cc34f" stroke-width="0.6"/>
<circle cx="513.75" cy="66.25" r="1.25" fill="#4c991c"/>
<circle cx="511.35" cy="73.91" r="1.25" fill="#4c991c"/>
<circle cx="514.15" cy="74.57" r="1.25" fill="#4c991c"/>
<circle cx="512.15" cy="75.57" r="1.25" fill="#4c991c"/>
<circle cx="514.45" cy="76.24" r="1.25" fill="#4c991c"/>
<line x1="508.55" y1="112.2" x2="508.55" y2="115.7" stroke="#222" stroke-width="0.8"/>
<text x="510.85" y="121.9" font-size="7.3" text-anchor="end" transform="rotate(-45 510.85 121.9)">PE P-16:0_20:4</text>
<line x1="502.9" y1="42.2" x2="514.5" y2="42.2" stroke="#333" stroke-width="1.1"/>
<text x="508.7" y="43.1" font-size="6.6" text-anchor="middle" font-weight="bold" fill="#000">*</text>
<rect x="350.2" y="162.6" width="6" height="4.4" fill="#9ebbe3" stroke="#4270b8" stroke-width="1"/>
<text x="360.8" y="167" font-size="7">Sensitive</text>
<rect x="428.6" y="162.6" width="6" height="4.4" fill="#c9e3a2" stroke="#6fae3a" stroke-width="1"/>
<text x="439" y="167" font-size="7">Resistant</text>
<text x="0.8" y="212" font-size="12.5" font-weight="bold" fill="#000">C</text>
<text x="110.8" y="185.3" font-size="8.25" text-anchor="middle">Synthesis of unsaturated</text>
<text x="110.8" y="195.3" font-size="8.25" text-anchor="middle">fatty acid–containing phospholipids</text>
<line x1="46.5" y1="201.2" x2="46.5" y2="308.5" stroke="#555" stroke-width="1.1"/>
<line x1="46" y1="308" x2="182" y2="308" stroke="#555" stroke-width="1.1"/>
<line x1="44.1" y1="209.2" x2="46.5" y2="209.2" stroke="#555" stroke-width="0.9"/>
<text x="42.8" y="212.1" font-size="8.1" text-anchor="end" font-style="italic">SCD</text>
<rect x="101.15" y="203.7" width="29.13" height="3.9" fill="#fff" stroke="#4f7dbf" stroke-width="0.9" rx="0.6"/>
<line x1="114.42" y1="203.7" x2="114.42" y2="207.6" stroke="#4f7dbf" stroke-width="0.9"/>
<rect x="111.25" y="209.5" width="31.73" height="3.8" fill="#fff" stroke="#78b443" stroke-width="0.9" rx="0.6"/>
<line x1="127.11" y1="209.5" x2="127.11" y2="213.3" stroke="#78b443" stroke-width="0.9"/>
<text x="146.28" y="213.9" font-size="7">NS</text>
<line x1="44.1" y1="224.7" x2="46.5" y2="224.7" stroke="#555" stroke-width="0.9"/>
<text x="42.8" y="227.6" font-size="8.1" text-anchor="end" font-style="italic">ACSL3</text>
<rect x="89.61" y="219.27" width="57.4" height="3.9" fill="#fff" stroke="#4f7dbf" stroke-width="0.9" rx="0.6"/>
<line x1="118.46" y1="219.27" x2="118.46" y2="223.17" stroke="#4f7dbf" stroke-width="0.9"/>
<rect x="102.6" y="225.07" width="54.81" height="3.8" fill="#fff" stroke="#78b443" stroke-width="0.9" rx="0.6"/>
<line x1="131.73" y1="225.07" x2="131.73" y2="228.87" stroke="#78b443" stroke-width="0.9"/>
<text x="160.7" y="229.47" font-size="7">NS</text>
<line x1="44.1" y1="240.2" x2="46.5" y2="240.2" stroke="#555" stroke-width="0.9"/>
<text x="42.8" y="243.1" font-size="8.1" text-anchor="end" font-style="italic">ACACA</text>
<rect x="94.81" y="234.84" width="50.77" height="3.9" fill="#fff" stroke="#4f7dbf" stroke-width="0.9" rx="0.6"/>
<line x1="114.42" y1="234.84" x2="114.42" y2="238.74" stroke="#4f7dbf" stroke-width="0.9"/>
<rect x="83.56" y="240.64" width="47.02" height="3.8" fill="#fff" stroke="#78b443" stroke-width="0.9" rx="0.6"/>
<line x1="104.61" y1="240.64" x2="104.61" y2="244.44" stroke="#78b443" stroke-width="0.9"/>
<text x="138" y="245.04" font-size="7">NS</text>
<line x1="44.1" y1="255.7" x2="46.5" y2="255.7" stroke="#555" stroke-width="0.9"/>
<text x="42.8" y="258.6" font-size="8.1" text-anchor="end" font-style="italic">ACACB</text>
<rect x="84.71" y="250.41" width="66.35" height="3.9" fill="#fff" stroke="#4f7dbf" stroke-width="0.9" rx="0.6"/>
<line x1="114.42" y1="250.41" x2="114.42" y2="254.31" stroke="#4f7dbf" stroke-width="0.9"/>
<rect x="79.52" y="256.21" width="61.44" height="3.8" fill="#fff" stroke="#78b443" stroke-width="0.9" rx="0.6"/>
<line x1="110.67" y1="256.21" x2="110.67" y2="260.01" stroke="#78b443" stroke-width="0.9"/>
<text x="149.6" y="260.61" font-size="7">NS</text>
<line x1="44.1" y1="271.2" x2="46.5" y2="271.2" stroke="#555" stroke-width="0.9"/>
<text x="42.8" y="274.1" font-size="8.1" text-anchor="end" font-style="italic">ACSL4</text>
<rect x="81.54" y="265.98" width="66.06" height="3.9" fill="#fff" stroke="#4f7dbf" stroke-width="0.9" rx="0.6"/>
<line x1="114.42" y1="265.98" x2="114.42" y2="269.88" stroke="#4f7dbf" stroke-width="0.9"/>
<rect x="89.04" y="271.78" width="68.36" height="3.8" fill="#fff" stroke="#78b443" stroke-width="0.9" rx="0.6"/>
<line x1="132.31" y1="271.78" x2="132.31" y2="275.58" stroke="#78b443" stroke-width="0.9"/>
<text x="160.7" y="276.18" font-size="7">NS</text>
<line x1="44.1" y1="286.7" x2="46.5" y2="286.7" stroke="#555" stroke-width="0.9"/>
<text x="42.8" y="289.6" font-size="8.1" text-anchor="end" font-style="italic">LPCAT3</text>
<rect x="94.23" y="281.55" width="37.21" height="3.9" fill="#fff" stroke="#4f7dbf" stroke-width="0.9" rx="0.6"/>
<line x1="114.42" y1="281.55" x2="114.42" y2="285.45" stroke="#4f7dbf" stroke-width="0.9"/>
<rect x="78.65" y="287.35" width="60.58" height="3.8" fill="#fff" stroke="#78b443" stroke-width="0.9" rx="0.6"/>
<line x1="108.36" y1="287.35" x2="108.36" y2="291.15" stroke="#78b443" stroke-width="0.9"/>
<text x="142.53" y="291.75" font-size="7">NS</text>
<line x1="44.1" y1="302.2" x2="46.5" y2="302.2" stroke="#555" stroke-width="0.9"/>
<text x="42.8" y="305.1" font-size="8.1" text-anchor="end" font-style="italic">MBOAT2</text>
<rect x="98.27" y="297.12" width="36.06" height="3.9" fill="#fff" stroke="#4f7dbf" stroke-width="0.9" rx="0.6"/>
<line x1="114.42" y1="297.12" x2="114.42" y2="301.02" stroke="#4f7dbf" stroke-width="0.9"/>
<rect x="99.13" y="302.92" width="53.94" height="3.8" fill="#fff" stroke="#78b443" stroke-width="0.9" rx="0.6"/>
<line x1="124.52" y1="302.92" x2="124.52" y2="306.72" stroke="#78b443" stroke-width="0.9"/>
<text x="158.8" y="305.52" font-size="7">NS</text>
<line x1="46.5" y1="308" x2="46.5" y2="310.6" stroke="#555" stroke-width="0.9"/>
<text x="46.5" y="318.2" font-size="7" text-anchor="middle">0.0</text>
<line x1="80.25" y1="308" x2="80.25" y2="310.6" stroke="#555" stroke-width="0.9"/>
<text x="80.25" y="318.2" font-size="7" text-anchor="middle">0.5</text>
<line x1="114" y1="308" x2="114" y2="310.6" stroke="#555" stroke-width="0.9"/>
<text x="114" y="318.2" font-size="7" text-anchor="middle">1.0</text>
<line x1="147.75" y1="308" x2="147.75" y2="310.6" stroke="#555" stroke-width="0.9"/>
<text x="147.75" y="318.2" font-size="7" text-anchor="middle">1.5</text>
<line x1="181.5" y1="308" x2="181.5" y2="310.6" stroke="#555" stroke-width="0.9"/>
<text x="181.5" y="318.2" font-size="7" text-anchor="middle">2.0</text>
<text x="120.9" y="327.3" font-size="8.1" text-anchor="middle">Relative expression</text>
<text x="290.8" y="194.8" font-size="8.25" text-anchor="middle">Ferroptosis defense system</text>
<line x1="225.1" y1="201.9" x2="225.1" y2="307.9" stroke="#555" stroke-width="1.1"/>
<line x1="224.6" y1="307.4" x2="366.8" y2="307.4" stroke="#555" stroke-width="1.1"/>
<line x1="222.7" y1="210.7" x2="225.1" y2="210.7" stroke="#555" stroke-width="0.9"/>
<text x="221.4" y="213.6" font-size="8.1" text-anchor="end" font-style="italic">GPX4</text>
<rect x="268.46" y="204.3" width="59.62" height="4.9" fill="#fff" stroke="#78b443" stroke-width="0.9" rx="0.6"/>
<line x1="306.15" y1="204.3" x2="306.15" y2="209.2" stroke="#78b443" stroke-width="0.9"/>
<rect x="267.31" y="211.4" width="53.08" height="4.9" fill="#fff" stroke="#4f7dbf" stroke-width="0.9" rx="0.6"/>
<line x1="296.54" y1="211.4" x2="296.54" y2="216.3" stroke="#4f7dbf" stroke-width="0.9"/>
<text x="331.38" y="209.3" font-size="7">NS</text>
<line x1="222.7" y1="228.5" x2="225.1" y2="228.5" stroke="#555" stroke-width="0.9"/>
<text x="221.4" y="231.4" font-size="8.1" text-anchor="end" font-style="italic">SLC7A11</text>
<rect x="287.69" y="222.1" width="62.31" height="4.9" fill="#fff" stroke="#78b443" stroke-width="0.9" rx="0.6"/>
<line x1="319.62" y1="222.1" x2="319.62" y2="227" stroke="#78b443" stroke-width="0.9"/>
<rect x="265.38" y="229.2" width="62.69" height="4.9" fill="#fff" stroke="#4f7dbf" stroke-width="0.9" rx="0.6"/>
<line x1="296.54" y1="229.2" x2="296.54" y2="234.1" stroke="#4f7dbf" stroke-width="0.9"/>
<text x="353.3" y="227.1" font-size="7">NS</text>
<line x1="222.7" y1="245.8" x2="225.1" y2="245.8" stroke="#555" stroke-width="0.9"/>
<text x="221.4" y="248.7" font-size="8.1" text-anchor="end" font-style="italic">FSP1</text>
<rect x="288.08" y="239.4" width="44.62" height="4.9" fill="#fff" stroke="#78b443" stroke-width="0.9" rx="0.6"/>
<line x1="308.08" y1="239.4" x2="308.08" y2="244.3" stroke="#78b443" stroke-width="0.9"/>
<rect x="272.31" y="246.5" width="46.54" height="4.9" fill="#fff" stroke="#4f7dbf" stroke-width="0.9" rx="0.6"/>
<line x1="296.54" y1="246.5" x2="296.54" y2="251.4" stroke="#4f7dbf" stroke-width="0.9"/>
<text x="335.99" y="244.4" font-size="7">NS</text>
<line x1="222.7" y1="263.5" x2="225.1" y2="263.5" stroke="#555" stroke-width="0.9"/>
<text x="221.4" y="266.4" font-size="8.1" text-anchor="end" font-style="italic">DHODH</text>
<rect x="269.23" y="257.1" width="53.85" height="4.9" fill="#fff" stroke="#78b443" stroke-width="0.9" rx="0.6"/>
<line x1="288.85" y1="257.1" x2="288.85" y2="262" stroke="#78b443" stroke-width="0.9"/>
<rect x="266.54" y="264.2" width="54.62" height="4.9" fill="#fff" stroke="#4f7dbf" stroke-width="0.9" rx="0.6"/>
<line x1="296.54" y1="264.2" x2="296.54" y2="269.1" stroke="#4f7dbf" stroke-width="0.9"/>
<text x="326.38" y="262.1" font-size="7">NS</text>
<line x1="222.7" y1="281.5" x2="225.1" y2="281.5" stroke="#555" stroke-width="0.9"/>
<text x="221.4" y="284.4" font-size="8.1" text-anchor="end" font-style="italic">GCH1</text>
<rect x="268.46" y="275.1" width="48.08" height="4.9" fill="#fff" stroke="#78b443" stroke-width="0.9" rx="0.6"/>
<line x1="294.23" y1="275.1" x2="294.23" y2="280" stroke="#78b443" stroke-width="0.9"/>
<rect x="275" y="282.2" width="38.85" height="4.9" fill="#fff" stroke="#4f7dbf" stroke-width="0.9" rx="0.6"/>
<line x1="296.54" y1="282.2" x2="296.54" y2="287.1" stroke="#4f7dbf" stroke-width="0.9"/>
<text x="319.84" y="280.1" font-size="7">NS</text>
<line x1="222.7" y1="299.3" x2="225.1" y2="299.3" stroke="#555" stroke-width="0.9"/>
<text x="221.4" y="302.2" font-size="8.1" text-anchor="end" font-style="italic">NOS2</text>
<rect x="285" y="292.9" width="56.54" height="4.9" fill="#fff" stroke="#78b443" stroke-width="0.9" rx="0.6"/>
<line x1="310.77" y1="292.9" x2="310.77" y2="297.8" stroke="#78b443" stroke-width="0.9"/>
<rect x="260" y="300" width="71.92" height="4.9" fill="#fff" stroke="#4f7dbf" stroke-width="0.9" rx="0.6"/>
<line x1="296.54" y1="300" x2="296.54" y2="304.9" stroke="#4f7dbf" stroke-width="0.9"/>
<text x="344.84" y="297.9" font-size="7">NS</text>
<line x1="225.1" y1="307.4" x2="225.1" y2="310" stroke="#555" stroke-width="0.9"/>
<text x="225.1" y="318.2" font-size="7" text-anchor="middle">0.0</text>
<line x1="260.4" y1="307.4" x2="260.4" y2="310" stroke="#555" stroke-width="0.9"/>
<text x="260.4" y="318.2" font-size="7" text-anchor="middle">0.5</text>
<line x1="295.7" y1="307.4" x2="295.7" y2="310" stroke="#555" stroke-width="0.9"/>
<text x="295.7" y="318.2" font-size="7" text-anchor="middle">1.0</text>
<line x1="331" y1="307.4" x2="331" y2="310" stroke="#555" stroke-width="0.9"/>
<text x="331" y="318.2" font-size="7" text-anchor="middle">1.5</text>
<line x1="366.3" y1="307.4" x2="366.3" y2="310" stroke="#555" stroke-width="0.9"/>
<text x="366.3" y="318.2" font-size="7" text-anchor="middle">2.0</text>
<text x="296" y="327.8" font-size="8.2" text-anchor="middle">Relative expression</text>
<rect x="151" y="336.2" width="5.8" height="4.4" fill="#fff" stroke="#4270b8" stroke-width="1"/>
<text x="159.2" y="340.8" font-size="7">Sensitive</text>
<rect x="228.8" y="336.2" width="5.8" height="4.4" fill="#fff" stroke="#6fae3a" stroke-width="1"/>
<text x="237.7" y="340.8" font-size="7">Resistant</text>
<text x="375.5" y="212.3" font-size="12.5" font-weight="bold" fill="#000">D</text>
<text x="426.3" y="237.2" font-size="8.3" fill="#111"><tspan font-style="italic">MBOAT1</tspan> expression</text>
<text x="422" y="258.9" font-size="8.4" text-anchor="end">Sensitive</text>
<text x="422" y="273.8" font-size="8.4" text-anchor="end">Resistant</text>
<defs><radialGradient id="hl"><stop offset="0" stop-color="#fff" stop-opacity="0.05"/><stop offset="1" stop-color="#000" stop-opacity="0.05"/></radialGradient></defs>
<rect x="431.2" y="248.1" width="13.7" height="13.75" fill="#e8101f" stroke="#151515" stroke-width="0.45"/>
<rect x="431.2" y="248.1" width="13.7" height="13.75" fill="url(#hl)"/>
<rect x="444.9" y="248.1" width="13.7" height="13.75" fill="#e41422" stroke="#151515" stroke-width="0.45"/>
<rect x="444.9" y="248.1" width="13.7" height="13.75" fill="url(#hl)"/>
<rect x="458.6" y="248.1" width="13.7" height="13.75" fill="#a8151c" stroke="#151515" stroke-width="0.45"/>
<rect x="458.6" y="248.1" width="13.7" height="13.75" fill="url(#hl)"/>
<rect x="472.3" y="248.1" width="13.7" height="13.75" fill="#9a161b" stroke="#151515" stroke-width="0.45"/>
<rect x="472.3" y="248.1" width="13.7" height="13.75" fill="url(#hl)"/>
<rect x="486" y="248.1" width="13.7" height="13.75" fill="#181818" stroke="#151515" stroke-width="0.45"/>
<rect x="486" y="248.1" width="13.7" height="13.75" fill="url(#hl)"/>
<rect x="431.2" y="261.85" width="13.7" height="13.75" fill="#20e628" stroke="#151515" stroke-width="0.45"/>
<rect x="431.2" y="261.85" width="13.7" height="13.75" fill="url(#hl)"/>
<rect x="444.9" y="261.85" width="13.7" height="13.75" fill="#2fd82e" stroke="#151515" stroke-width="0.45"/>
<rect x="444.9" y="261.85" width="13.7" height="13.75" fill="url(#hl)"/>
<rect x="458.6" y="261.85" width="13.7" height="13.75" fill="#1d8c1d" stroke="#151515" stroke-width="0.45"/>
<rect x="458.6" y="261.85" width="13.7" height="13.75" fill="url(#hl)"/>
<rect x="472.3" y="261.85" width="13.7" height="13.75" fill="#2aac2a" stroke="#151515" stroke-width="0.45"/>
<rect x="472.3" y="261.85" width="13.7" height="13.75" fill="url(#hl)"/>
<rect x="486" y="261.85" width="13.7" height="13.75" fill="#1b5a1b" stroke="#151515" stroke-width="0.45"/>
<rect x="486" y="261.85" width="13.7" height="13.75" fill="url(#hl)"/>
<text x="407.5" y="292.7" font-size="7.1">Expression</text>
<defs><linearGradient id="cb" x1="0" x2="1" y1="0" y2="0"><stop offset="0" stop-color="#28ea28"/><stop offset="0.2" stop-color="#22c022"/><stop offset="0.3" stop-color="#1a7a1a"/><stop offset="0.45" stop-color="#123012"/><stop offset="0.54" stop-color="#0c0c0c"/><stop offset="0.66" stop-color="#3a1010"/><stop offset="0.78" stop-color="#981418"/><stop offset="0.9" stop-color="#d81420"/><stop offset="1" stop-color="#f01020"/></linearGradient></defs>
<rect x="459.5" y="288.5" width="40.2" height="5.4" rx="1.2" fill="url(#cb)"/>
<text x="455.3" y="301.7" font-size="6.9">−2</text>
<text x="465.1" y="301.7" font-size="6.9">−1</text>
<text x="477.2" y="301.7" font-size="6.9">0</text>
<text x="487.2" y="301.7" font-size="6.9">1</text>
<text x="496.2" y="301.7" font-size="6.9">2</text>
<text x="0.6" y="360.5" font-size="12.5" font-weight="bold" fill="#000">E</text>
<text x="63.6" y="392.6" font-size="8.4" transform="rotate(-45 63.6 392.6)">Sensitive</text>
<text x="88.6" y="392.6" font-size="8.4" transform="rotate(-45 88.6 392.6)">Resistant</text>
<defs><filter id="bl" x="-20%" y="-60%" width="140%" height="220%"><feGaussianBlur stdDeviation="0.9"/></filter><linearGradient id="gel" x1="0" x2="0" y1="0" y2="1"><stop offset="0" stop-color="#d6d6d6"/><stop offset="0.35" stop-color="#efefef"/><stop offset="0.7" stop-color="#ececec"/><stop offset="1" stop-color="#d2d2d2"/></linearGradient></defs>
<rect x="54.6" y="396.8" width="51.6" height="18.2" fill="url(#gel)" stroke="#2a2a7a" stroke-width="1.1"/>
<rect x="54.6" y="419.6" width="51.6" height="18.4" fill="url(#gel)" stroke="#2a2a7a" stroke-width="1.1"/>
<g filter="url(#bl)">
<rect x="58.6" y="404.6" width="20.4" height="5" rx="2.4" fill="#080808"/>
<rect x="84" y="405.9" width="17.6" height="2.4" rx="1.2" fill="#777"/>
<rect x="59.4" y="427.2" width="17.8" height="4.2" rx="2" fill="#101010"/>
<rect x="82.8" y="425.9" width="20.2" height="5.6" rx="2.6" fill="#080808"/>
</g>
<text x="48.2" y="412.2" font-size="7.9" text-anchor="end">MBOAT1</text>
<text x="49.2" y="432.8" font-size="7.9" text-anchor="end">GAPDH</text>
<text x="144.6" y="360.2" font-size="12.5" font-weight="bold" fill="#000">F</text>
<rect x="189.9" y="353.9" width="5.8" height="4.6" fill="#9ebbe3" stroke="#4270b8" stroke-width="1"/>
<text x="196.6" y="358.6" font-size="7.2">Vector</text>
<rect x="253" y="353.9" width="5.8" height="4.6" fill="#c9e3a2" stroke="#6fae3a" stroke-width="1"/>
<text x="260.8" y="358.6" font-size="7.2">OE</text>
<line x1="177.5" y1="362" x2="177.5" y2="443.6" stroke="#444" stroke-width="1.2"/>
<line x1="176.9" y1="443" x2="302.2" y2="443" stroke="#444" stroke-width="1.2"/>
<line x1="175.3" y1="443" x2="177.5" y2="443" stroke="#444" stroke-width="0.9"/>
<text x="173.6" y="445.4" font-size="6.6" text-anchor="end">0</text>
<line x1="175.3" y1="428.25" x2="177.5" y2="428.25" stroke="#444" stroke-width="0.9"/>
<text x="173.6" y="430.65" font-size="6.6" text-anchor="end">20</text>
<line x1="175.3" y1="413.5" x2="177.5" y2="413.5" stroke="#444" stroke-width="0.9"/>
<text x="173.6" y="415.9" font-size="6.6" text-anchor="end">40</text>
<line x1="175.3" y1="398.75" x2="177.5" y2="398.75" stroke="#444" stroke-width="0.9"/>
<text x="173.6" y="401.15" font-size="6.6" text-anchor="end">60</text>
<line x1="175.3" y1="384" x2="177.5" y2="384" stroke="#444" stroke-width="0.9"/>
<text x="173.6" y="386.4" font-size="6.6" text-anchor="end">80</text>
<line x1="175.3" y1="369.25" x2="177.5" y2="369.25" stroke="#444" stroke-width="0.9"/>
<text x="173.6" y="371.65" font-size="6.6" text-anchor="end">100</text>
<text x="157.3" y="406.2" font-size="6.9" text-anchor="middle" transform="rotate(-90 157.3 406.2)">Cell death (%)</text>
<rect x="180.8" y="401.4" width="7.2" height="41.6" fill="#8fb0dc" stroke="#4f7ec2" stroke-width="0.8"/>
<line x1="184.4" y1="394.03" x2="184.4" y2="408.78" stroke="#1d4f9e" stroke-width="0.8"/>
<line x1="182.6" y1="394.03" x2="186.2" y2="394.03" stroke="#1d4f9e" stroke-width="0.8"/>
<line x1="182.6" y1="408.78" x2="186.2" y2="408.78" stroke="#1d4f9e" stroke-width="0.8"/>
<circle cx="185.4" cy="392.85" r="1.4" fill="#1d4f9e"/>
<circle cx="182.6" cy="394.32" r="1.4" fill="#1d4f9e"/>
<circle cx="186" cy="402.44" r="1.4" fill="#1d4f9e"/>
<circle cx="183.4" cy="406.12" r="1.4" fill="#1d4f9e"/>
<circle cx="184.7" cy="409.07" r="1.4" fill="#1d4f9e"/>
<rect x="190.5" y="437.1" width="7.2" height="5.9" fill="#c3df98" stroke="#7db843" stroke-width="0.8"/>
<line x1="194.1" y1="434.89" x2="194.1" y2="439.31" stroke="#3f8f1f" stroke-width="0.8"/>
<line x1="192.3" y1="434.89" x2="195.9" y2="434.89" stroke="#3f8f1f" stroke-width="0.8"/>
<line x1="192.3" y1="439.31" x2="195.9" y2="439.31" stroke="#3f8f1f" stroke-width="0.8"/>
<rect x="191" y="434.32" width="2.6" height="2.6" fill="#3f8f1f"/>
<rect x="194.4" y="435.06" width="2.6" height="2.6" fill="#3f8f1f"/>
<rect x="191.8" y="435.8" width="2.6" height="2.6" fill="#3f8f1f"/>
<rect x="193.1" y="436.54" width="2.6" height="2.6" fill="#3f8f1f"/>
<rect x="192.4" y="438.01" width="2.6" height="2.6" fill="#3f8f1f"/>
<rect x="193.8" y="437.27" width="2.6" height="2.6" fill="#3f8f1f"/>
<line x1="188.75" y1="443" x2="188.75" y2="445.4" stroke="#444" stroke-width="0.9"/>
<text x="188.75" y="453.7" font-size="6.5" text-anchor="middle">0.1</text>
<text x="194.2" y="432" font-size="7.5" text-anchor="middle">***</text>
<rect x="206.3" y="389.01" width="7.2" height="53.99" fill="#8fb0dc" stroke="#4f7ec2" stroke-width="0.8"/>
<line x1="209.9" y1="382.38" x2="209.9" y2="395.65" stroke="#1d4f9e" stroke-width="0.8"/>
<line x1="208.1" y1="382.38" x2="211.7" y2="382.38" stroke="#1d4f9e" stroke-width="0.8"/>
<line x1="208.1" y1="395.65" x2="211.7" y2="395.65" stroke="#1d4f9e" stroke-width="0.8"/>
<circle cx="208.1" cy="381.05" r="1.4" fill="#1d4f9e"/>
<circle cx="211.5" cy="385.48" r="1.4" fill="#1d4f9e"/>
<circle cx="208.9" cy="389.9" r="1.4" fill="#1d4f9e"/>
<circle cx="210.2" cy="394.32" r="1.4" fill="#1d4f9e"/>
<circle cx="209.5" cy="398.75" r="1.4" fill="#1d4f9e"/>
<rect x="215.9" y="435.62" width="7.2" height="7.38" fill="#c3df98" stroke="#7db843" stroke-width="0.8"/>
<line x1="219.5" y1="433.41" x2="219.5" y2="437.84" stroke="#3f8f1f" stroke-width="0.8"/>
<line x1="217.7" y1="433.41" x2="221.3" y2="433.41" stroke="#3f8f1f" stroke-width="0.8"/>
<line x1="217.7" y1="437.84" x2="221.3" y2="437.84" stroke="#3f8f1f" stroke-width="0.8"/>
<rect x="219.8" y="432.11" width="2.6" height="2.6" fill="#3f8f1f"/>
<rect x="217.2" y="433.59" width="2.6" height="2.6" fill="#3f8f1f"/>
<rect x="218.5" y="434.32" width="2.6" height="2.6" fill="#3f8f1f"/>
<rect x="217.8" y="435.06" width="2.6" height="2.6" fill="#3f8f1f"/>
<rect x="219.2" y="435.8" width="2.6" height="2.6" fill="#3f8f1f"/>
<rect x="216.4" y="436.54" width="2.6" height="2.6" fill="#3f8f1f"/>
<line x1="214.2" y1="443" x2="214.2" y2="445.4" stroke="#444" stroke-width="0.9"/>
<text x="214.2" y="453.7" font-size="6.5" text-anchor="middle">0.2</text>
<text x="219.6" y="425" font-size="7.5" text-anchor="middle">***</text>
<rect x="231.6" y="384.74" width="7.2" height="58.26" fill="#8fb0dc" stroke="#4f7ec2" stroke-width="0.8"/>
<line x1="235.2" y1="377.36" x2="235.2" y2="392.11" stroke="#1d4f9e" stroke-width="0.8"/>
<line x1="233.4" y1="377.36" x2="237" y2="377.36" stroke="#1d4f9e" stroke-width="0.8"/>
<line x1="233.4" y1="392.11" x2="237" y2="392.11" stroke="#1d4f9e" stroke-width="0.8"/>
<circle cx="236.8" cy="377.36" r="1.4" fill="#1d4f9e"/>
<circle cx="234.2" cy="381.05" r="1.4" fill="#1d4f9e"/>
<circle cx="235.5" cy="384" r="1.4" fill="#1d4f9e"/>
<circle cx="234.8" cy="391.38" r="1.4" fill="#1d4f9e"/>
<circle cx="236.2" cy="395.8" r="1.4" fill="#1d4f9e"/>
<rect x="241.3" y="431.57" width="7.2" height="11.43" fill="#c3df98" stroke="#7db843" stroke-width="0.8"/>
<line x1="244.9" y1="427.88" x2="244.9" y2="435.26" stroke="#3f8f1f" stroke-width="0.8"/>
<line x1="243.1" y1="427.88" x2="246.7" y2="427.88" stroke="#3f8f1f" stroke-width="0.8"/>
<line x1="243.1" y1="435.26" x2="246.7" y2="435.26" stroke="#3f8f1f" stroke-width="0.8"/>
<rect x="242.6" y="425.47" width="2.6" height="2.6" fill="#3f8f1f"/>
<rect x="243.9" y="428.43" width="2.6" height="2.6" fill="#3f8f1f"/>
<rect x="243.2" y="430.64" width="2.6" height="2.6" fill="#3f8f1f"/>
<rect x="244.6" y="432.11" width="2.6" height="2.6" fill="#3f8f1f"/>
<rect x="241.8" y="433.59" width="2.6" height="2.6" fill="#3f8f1f"/>
<rect x="245.2" y="434.32" width="2.6" height="2.6" fill="#3f8f1f"/>
<line x1="239.55" y1="443" x2="239.55" y2="445.4" stroke="#444" stroke-width="0.9"/>
<text x="239.55" y="453.7" font-size="6.5" text-anchor="middle">0.3</text>
<text x="245" y="418.2" font-size="7.5" text-anchor="middle">***</text>
<rect x="257.2" y="377.36" width="7.2" height="65.64" fill="#8fb0dc" stroke="#4f7ec2" stroke-width="0.8"/>
<line x1="260.8" y1="372.2" x2="260.8" y2="382.53" stroke="#1d4f9e" stroke-width="0.8"/>
<line x1="259" y1="372.2" x2="262.6" y2="372.2" stroke="#1d4f9e" stroke-width="0.8"/>
<line x1="259" y1="382.53" x2="262.6" y2="382.53" stroke="#1d4f9e" stroke-width="0.8"/>
<circle cx="259.8" cy="372.94" r="1.4" fill="#1d4f9e"/>
<circle cx="261.1" cy="374.41" r="1.4" fill="#1d4f9e"/>
<circle cx="260.4" cy="378.1" r="1.4" fill="#1d4f9e"/>
<circle cx="261.8" cy="382.52" r="1.4" fill="#1d4f9e"/>
<circle cx="259" cy="385.48" r="1.4" fill="#1d4f9e"/>
<rect x="266.7" y="424.56" width="7.2" height="18.44" fill="#c3df98" stroke="#7db843" stroke-width="0.8"/>
<line x1="270.3" y1="420.14" x2="270.3" y2="428.99" stroke="#3f8f1f" stroke-width="0.8"/>
<line x1="268.5" y1="420.14" x2="272.1" y2="420.14" stroke="#3f8f1f" stroke-width="0.8"/>
<line x1="268.5" y1="428.99" x2="272.1" y2="428.99" stroke="#3f8f1f" stroke-width="0.8"/>
<rect x="269.3" y="417.36" width="2.6" height="2.6" fill="#3f8f1f"/>
<rect x="268.6" y="421.05" width="2.6" height="2.6" fill="#3f8f1f"/>
<rect x="270" y="423.26" width="2.6" height="2.6" fill="#3f8f1f"/>
<rect x="267.2" y="425.47" width="2.6" height="2.6" fill="#3f8f1f"/>
<rect x="270.6" y="426.95" width="2.6" height="2.6" fill="#3f8f1f"/>
<rect x="268" y="428.43" width="2.6" height="2.6" fill="#3f8f1f"/>
<line x1="265.05" y1="443" x2="265.05" y2="445.4" stroke="#444" stroke-width="0.9"/>
<text x="265.05" y="453.7" font-size="6.5" text-anchor="middle">0.4</text>
<text x="270.4" y="407.5" font-size="7.5" text-anchor="middle">***</text>
<rect x="282.5" y="372.2" width="7.2" height="70.8" fill="#8fb0dc" stroke="#4f7ec2" stroke-width="0.8"/>
<line x1="286.1" y1="369.25" x2="286.1" y2="375.15" stroke="#1d4f9e" stroke-width="0.8"/>
<line x1="284.3" y1="369.25" x2="287.9" y2="369.25" stroke="#1d4f9e" stroke-width="0.8"/>
<line x1="284.3" y1="375.15" x2="287.9" y2="375.15" stroke="#1d4f9e" stroke-width="0.8"/>
<circle cx="286.4" cy="369.99" r="1.4" fill="#1d4f9e"/>
<circle cx="285.7" cy="371.46" r="1.4" fill="#1d4f9e"/>
<circle cx="287.1" cy="372.94" r="1.4" fill="#1d4f9e"/>
<circle cx="284.3" cy="375.15" r="1.4" fill="#1d4f9e"/>
<circle cx="287.7" cy="376.62" r="1.4" fill="#1d4f9e"/>
<rect x="292.2" y="411.66" width="7.2" height="31.34" fill="#c3df98" stroke="#7db843" stroke-width="0.8"/>
<line x1="295.8" y1="407.23" x2="295.8" y2="416.08" stroke="#3f8f1f" stroke-width="0.8"/>
<line x1="294" y1="407.23" x2="297.6" y2="407.23" stroke="#3f8f1f" stroke-width="0.8"/>
<line x1="294" y1="416.08" x2="297.6" y2="416.08" stroke="#3f8f1f" stroke-width="0.8"/>
<rect x="294.1" y="406.3" width="2.6" height="2.6" fill="#3f8f1f"/>
<rect x="295.5" y="407.77" width="2.6" height="2.6" fill="#3f8f1f"/>
<rect x="292.7" y="409.25" width="2.6" height="2.6" fill="#3f8f1f"/>
<rect x="296.1" y="412.2" width="2.6" height="2.6" fill="#3f8f1f"/>
<rect x="293.5" y="415.15" width="2.6" height="2.6" fill="#3f8f1f"/>
<rect x="294.8" y="417.36" width="2.6" height="2.6" fill="#3f8f1f"/>
<line x1="290.45" y1="443" x2="290.45" y2="445.4" stroke="#444" stroke-width="0.9"/>
<text x="290.45" y="453.7" font-size="6.5" text-anchor="middle">0.5</text>
<text x="295.9" y="395.8" font-size="7.5" text-anchor="middle">***</text>
<text x="239.5" y="464.2" font-size="6.9" text-anchor="middle">RSL3 (µmol/L)</text>
<text x="336.3" y="361.3" font-size="12.5" font-weight="bold" fill="#000">G</text>
<text x="456.9" y="355.4" font-size="8.3" text-anchor="middle">Resistant</text>
<line x1="419.5" y1="359.6" x2="497.3" y2="359.6" stroke="#555" stroke-width="1.2"/>
<text x="397" y="372.3" font-size="8.3" text-anchor="middle">Sensitive</text>
<text x="437.3" y="372.3" font-size="8.3" text-anchor="middle">Vector</text>
<text x="477.7" y="372.3" font-size="8.3" text-anchor="middle">OE</text>
<text x="361.1" y="392.6" font-size="8.2" text-anchor="middle" transform="rotate(-90 361.1 392.6)">Oxidized</text>
<text x="371.4" y="392.6" font-size="8.2" text-anchor="middle" transform="rotate(-90 371.4 392.6)">lipids</text>
<text x="361.1" y="439.7" font-size="8.2" text-anchor="middle" transform="rotate(-90 361.1 439.7)">Nonoxidized</text>
<text x="371.4" y="439.4" font-size="8.2" text-anchor="middle" transform="rotate(-90 371.4 439.4)">lipids</text>
<defs><filter id="b1" x="-30%" y="-30%" width="160%" height="160%"><feGaussianBlur stdDeviation="0.9"/></filter><filter id="b2" x="-30%" y="-30%" width="160%" height="160%"><feGaussianBlur stdDeviation="2"/></filter><filter id="sp" x="-10%" y="-10%" width="120%" height="120%"><feTurbulence type="fractalNoise" baseFrequency="0.45" numOctaves="2" seed="3" result="n"/><feColorMatrix in="n" type="matrix" values="0 0 0 0 0  0 0 0 0 0  0 0 0 0 0  1.6 1.6 0 0 -1.05" result="m"/><feComposite in="SourceGraphic" in2="m" operator="in" result="c"/><feGaussianBlur in="c" stdDeviation="0.35"/></filter><filter id="sp2" x="-10%" y="-10%" width="120%" height="120%"><feTurbulence type="fractalNoise" baseFrequency="0.7" numOctaves="2" seed="11" result="n"/><feColorMatrix in="n" type="matrix" values="0 0 0 0 0  0 0 0 0 0  0 0 0 0 0  2.2 2.2 0 0 -1.75" result="m"/><feComposite in="SourceGraphic" in2="m" operator="in" result="c"/><feGaussianBlur in="c" stdDeviation="0.3"/></filter><radialGradient id="gG"><stop offset="0" stop-color="#3cf03c"/><stop offset="0.75" stop-color="#2ad02a"/><stop offset="1" stop-color="#1a8a1a" stop-opacity="0"/></radialGradient><radialGradient id="gGd"><stop offset="0" stop-color="#1f6a2a"/><stop offset="0.6" stop-color="#184e20"/><stop offset="1" stop-color="#0a200a" stop-opacity="0"/></radialGradient><radialGradient id="gR"><stop offset="0" stop-color="#f01818"/><stop offset="0.75" stop-color="#d41414"/><stop offset="1" stop-color="#600808" stop-opacity="0"/></radialGradient><radialGradient id="gRd"><stop offset="0" stop-color="#5e1020"/><stop offset="0.75" stop-color="#7a1428"/><stop offset="1" stop-color="#300808" stop-opacity="0"/></radialGradient><radialGradient id="gB"><stop offset="0" stop-color="#1a26c8"/><stop offset="0.6" stop-color="#1c2cf0"/><stop offset="0.85" stop-color="#2034ff"/><stop offset="1" stop-color="#1820c0" stop-opacity="0.3"/></radialGradient></defs>
<rect x="377.3" y="375.3" width="39.1" height="39.1" fill="#020202"/>
<rect x="418.8" y="375.3" width="39.1" height="39.1" fill="#020202"/>
<rect x="460.3" y="375.3" width="39.1" height="39.1" fill="#020202"/>
<rect x="377.3" y="416.8" width="39.1" height="39.1" fill="#020202"/>
<rect x="418.8" y="416.8" width="39.1" height="39.1" fill="#020202"/>
<rect x="460.3" y="416.8" width="39.1" height="39.1" fill="#020202"/>
<clipPath id="c11"><rect x="377.3" y="375.3" width="39.1" height="39.1"/></clipPath>
<clipPath id="c12"><rect x="418.8" y="375.3" width="39.1" height="39.1"/></clipPath>
<clipPath id="c13"><rect x="460.3" y="375.3" width="39.1" height="39.1"/></clipPath>
<clipPath id="c21"><rect x="377.3" y="416.8" width="39.1" height="39.1"/></clipPath>
<clipPath id="c22"><rect x="418.8" y="416.8" width="39.1" height="39.1"/></clipPath>
<clipPath id="c23"><rect x="460.3" y="416.8" width="39.1" height="39.1"/></clipPath>
<g clip-path="url(#c11)">
<ellipse cx="397.88" cy="395.07" rx="16.02" ry="13.73" fill="url(#gGd)" filter="url(#sp2)" opacity="0.9"/>
<ellipse cx="397.88" cy="395.07" rx="13.08" ry="10.79" fill="#0c2a10" filter="url(#b2)" opacity="0.6"/>
<ellipse cx="402.1" cy="389.2" rx="6.9" ry="5.6" fill="url(#gB)" transform="rotate(-10 402.1 389.2)" filter="url(#b1)" opacity="0.92"/>
<ellipse cx="397.5" cy="400.2" rx="7.9" ry="5.2" fill="url(#gB)" transform="rotate(-8 397.5 400.2)" filter="url(#b1)" opacity="0.9"/>
</g>
<g clip-path="url(#c12)">
<ellipse cx="438.75" cy="392.61" rx="16.02" ry="15.69" fill="#1a7a1a" filter="url(#b1)" opacity="0.6"/>
<ellipse cx="441.2" cy="392.29" rx="14.38" ry="15.53" fill="url(#gG)" filter="url(#sp)"/>
<ellipse cx="442.7" cy="391.79" rx="8.99" ry="10.13" fill="#30dd30" filter="url(#b2)" opacity="0.5"/>
<ellipse cx="428.61" cy="388.53" rx="5.56" ry="8.5" fill="url(#gB)" transform="rotate(18 428.61 388.53)" filter="url(#b1)" opacity="0.92"/>
<ellipse cx="434.66" cy="401.6" rx="6.86" ry="4.58" fill="url(#gB)" transform="rotate(8 434.66 401.6)" filter="url(#b1)"/>
<ellipse cx="437.44" cy="387.38" rx="0.82" ry="0.98" fill="#041004"/>
</g>
<g clip-path="url(#c13)">
<ellipse cx="480.9" cy="393" rx="17.5" ry="17.5" fill="url(#gGd)" opacity="0.85"/>
<ellipse cx="473.2" cy="394" rx="5.1" ry="5.3" fill="url(#gB)" filter="url(#b1)"/>
<ellipse cx="475.9" cy="403.9" rx="4.5" ry="4.3" fill="url(#gB)" filter="url(#b1)"/>
</g>
<g clip-path="url(#c21)">
<ellipse cx="396.6" cy="437.4" rx="11.6" ry="12" fill="#a01010" filter="url(#b1)" opacity="0.8"/>
<ellipse cx="396.6" cy="437.4" rx="12.4" ry="12.8" fill="url(#gR)" filter="url(#sp)"/>
<ellipse cx="403.4" cy="431.6" rx="4.6" ry="4.4" fill="url(#gB)" filter="url(#b1)" opacity="0.85"/>
<ellipse cx="396.6" cy="442.6" rx="6.4" ry="4.2" fill="url(#gB)" transform="rotate(-12 396.6 442.6)" filter="url(#b1)" opacity="0.75"/>
<ellipse cx="394.6" cy="440.4" rx="7.5" ry="6.5" fill="#f02020" filter="url(#sp2)" opacity="0.8"/>
<rect x="380.7" y="452.8" width="8.2" height="1.7" fill="#a8a8a8"/>
</g>
<g clip-path="url(#c22)">
<ellipse cx="439.56" cy="438.38" rx="17.65" ry="17.16" fill="url(#gRd)" opacity="0.68"/>
<ellipse cx="428.94" cy="431.03" rx="5.56" ry="8.5" fill="url(#gB)" transform="rotate(22 428.94 431.03)" filter="url(#b1)" opacity="0.72"/>
<ellipse cx="434.66" cy="444.92" rx="7.52" ry="4.9" fill="url(#gB)" transform="rotate(8 434.66 444.92)" filter="url(#b1)" opacity="0.78"/>
<ellipse cx="441.2" cy="432.66" rx="2.29" ry="1.96" fill="#200510" filter="url(#b1)" opacity="0.8"/>
</g>
<g clip-path="url(#c23)">
<ellipse cx="480.6" cy="437.2" rx="14.2" ry="16.2" fill="#8e1010" filter="url(#b1)" opacity="0.9"/>
<ellipse cx="480.6" cy="438.2" rx="13.8" ry="15.2" fill="url(#gR)" filter="url(#sp)" opacity="0.92"/>
<ellipse cx="481.5" cy="440" rx="8" ry="8" fill="#d81616" filter="url(#b2)" opacity="0.6"/>
<ellipse cx="472.3" cy="439.1" rx="4.9" ry="5.1" fill="url(#gB)" filter="url(#b1)"/>
<ellipse cx="474.7" cy="448.5" rx="4" ry="3.9" fill="url(#gB)" filter="url(#b1)"/>
</g>
<text x="0.8" y="487" font-size="12.5" font-weight="bold" fill="#000">H</text>
<rect x="117.7" y="474.6" width="6.2" height="4.4" fill="#9ebbe3" stroke="#4270b8" stroke-width="1"/>
<text x="125" y="479.3" font-size="7.1">Vector</text>
<rect x="180.7" y="474.6" width="6.2" height="4.4" fill="#c9e3a2" stroke="#6fae3a" stroke-width="1"/>
<text x="189.5" y="479.3" font-size="7.1">OE</text>
<text x="93.7" y="494.8" font-size="6.9" text-anchor="middle" font-weight="bold">PE-MUFAs</text>
<line x1="40.4" y1="513.4" x2="40.4" y2="593.3" stroke="#222" stroke-width="1"/>
<line x1="39.9" y1="592.8" x2="148.5" y2="592.8" stroke="#222" stroke-width="1"/>
<line x1="38.2" y1="592.8" x2="40.4" y2="592.8" stroke="#222" stroke-width="0.9"/>
<text x="36" y="595.4" font-size="7.4" text-anchor="end">0.0</text>
<line x1="38.2" y1="577" x2="40.4" y2="577" stroke="#222" stroke-width="0.9"/>
<text x="36" y="579.6" font-size="7.4" text-anchor="end">0.5</text>
<line x1="38.2" y1="561.2" x2="40.4" y2="561.2" stroke="#222" stroke-width="0.9"/>
<text x="36" y="563.8" font-size="7.4" text-anchor="end">1.0</text>
<line x1="38.2" y1="545.4" x2="40.4" y2="545.4" stroke="#222" stroke-width="0.9"/>
<text x="36" y="548" font-size="7.4" text-anchor="end">1.5</text>
<line x1="38.2" y1="529.6" x2="40.4" y2="529.6" stroke="#222" stroke-width="0.9"/>
<text x="36" y="532.2" font-size="7.4" text-anchor="end">2.0</text>
<line x1="38.2" y1="513.8" x2="40.4" y2="513.8" stroke="#222" stroke-width="0.9"/>
<text x="36" y="516.4" font-size="7.4" text-anchor="end">2.5</text>
<text x="21.4" y="552.6" font-size="8.3" text-anchor="middle" transform="rotate(-90 21.4 552.6)">Relative abundance</text>
<rect x="43.95" y="562.31" width="7.4" height="30.49" fill="#8fb0dc" stroke="#5c88c8" stroke-width="0.7"/>
<line x1="47.65" y1="559.46" x2="47.65" y2="565.15" stroke="#5c88c8" stroke-width="0.6"/>
<line x1="46.05" y1="559.46" x2="49.25" y2="559.46" stroke="#5c88c8" stroke-width="0.6"/>
<line x1="46.05" y1="565.15" x2="49.25" y2="565.15" stroke="#5c88c8" stroke-width="0.6"/>
<circle cx="47.95" cy="553.3" r="1.5" fill="#1d4f9e"/>
<circle cx="49.05" cy="560.88" r="1.5" fill="#1d4f9e"/>
<circle cx="46.45" cy="563.41" r="1.5" fill="#1d4f9e"/>
<circle cx="48.05" cy="570.68" r="1.5" fill="#1d4f9e"/>
<rect x="54.1" y="529.6" width="7.4" height="63.2" fill="#c3df98" stroke="#8cc34f" stroke-width="0.7"/>
<line x1="57.8" y1="525.49" x2="57.8" y2="533.71" stroke="#8cc34f" stroke-width="0.6"/>
<line x1="56.2" y1="525.49" x2="59.4" y2="525.49" stroke="#8cc34f" stroke-width="0.6"/>
<line x1="56.2" y1="533.71" x2="59.4" y2="533.71" stroke="#8cc34f" stroke-width="0.6"/>
<rect x="56.5" y="516.09" width="3" height="3" fill="#4c991c"/>
<rect x="58.5" y="523.36" width="3" height="3" fill="#4c991c"/>
<rect x="54.6" y="527.15" width="3" height="3" fill="#4c991c"/>
<rect x="56.5" y="533.79" width="3" height="3" fill="#4c991c"/>
<rect x="56.5" y="540.11" width="3" height="3" fill="#4c991c"/>
<line x1="52.65" y1="592.8" x2="52.65" y2="596" stroke="#222" stroke-width="0.9"/>
<text x="55.25" y="602.8" font-size="7.3" text-anchor="end" transform="rotate(-45 55.25 602.8)">PE 16:0_18:1</text>
<line x1="43.6" y1="509.2" x2="56.5" y2="509.2" stroke="#333" stroke-width="1.2"/>
<text x="50.05" y="508.5" font-size="8.4" text-anchor="middle" fill="#000">***</text>
<rect x="71.45" y="563.41" width="7.4" height="29.39" fill="#8fb0dc" stroke="#5c88c8" stroke-width="0.7"/>
<line x1="75.15" y1="559.94" x2="75.15" y2="566.89" stroke="#5c88c8" stroke-width="0.6"/>
<line x1="73.55" y1="559.94" x2="76.75" y2="559.94" stroke="#5c88c8" stroke-width="0.6"/>
<line x1="73.55" y1="566.89" x2="76.75" y2="566.89" stroke="#5c88c8" stroke-width="0.6"/>
<circle cx="76.55" cy="551.72" r="1.5" fill="#1d4f9e"/>
<circle cx="73.95" cy="556.46" r="1.5" fill="#1d4f9e"/>
<circle cx="75.55" cy="564.36" r="1.5" fill="#1d4f9e"/>
<circle cx="74.95" cy="569.1" r="1.5" fill="#1d4f9e"/>
<circle cx="75.45" cy="573.21" r="1.5" fill="#1d4f9e"/>
<rect x="81.6" y="538.45" width="7.4" height="54.35" fill="#c3df98" stroke="#8cc34f" stroke-width="0.7"/>
<line x1="85.3" y1="534.34" x2="85.3" y2="542.56" stroke="#8cc34f" stroke-width="0.6"/>
<line x1="83.7" y1="534.34" x2="86.9" y2="534.34" stroke="#8cc34f" stroke-width="0.6"/>
<line x1="83.7" y1="542.56" x2="86.9" y2="542.56" stroke="#8cc34f" stroke-width="0.6"/>
<rect x="86" y="526.52" width="3" height="3" fill="#4c991c"/>
<rect x="82.1" y="529.68" width="3" height="3" fill="#4c991c"/>
<rect x="84" y="537.58" width="3" height="3" fill="#4c991c"/>
<rect x="84" y="540.74" width="3" height="3" fill="#4c991c"/>
<rect x="84" y="550.22" width="3" height="3" fill="#4c991c"/>
<line x1="80.15" y1="592.8" x2="80.15" y2="596" stroke="#222" stroke-width="0.9"/>
<text x="82.75" y="602.8" font-size="7.3" text-anchor="end" transform="rotate(-45 82.75 602.8)">PE P-16:0_18:1</text>
<line x1="73.9" y1="512.4" x2="87" y2="512.4" stroke="#333" stroke-width="1.2"/>
<text x="80.45" y="511.7" font-size="8.4" text-anchor="middle" fill="#000">***</text>
<rect x="98.95" y="559.62" width="7.4" height="33.18" fill="#8fb0dc" stroke="#5c88c8" stroke-width="0.7"/>
<line x1="102.65" y1="557.09" x2="102.65" y2="562.15" stroke="#5c88c8" stroke-width="0.6"/>
<line x1="101.05" y1="557.09" x2="104.25" y2="557.09" stroke="#5c88c8" stroke-width="0.6"/>
<line x1="101.05" y1="562.15" x2="104.25" y2="562.15" stroke="#5c88c8" stroke-width="0.6"/>
<circle cx="101.45" cy="553.3" r="1.5" fill="#1d4f9e"/>
<circle cx="103.05" cy="554.88" r="1.5" fill="#1d4f9e"/>
<circle cx="102.45" cy="559.62" r="1.5" fill="#1d4f9e"/>
<circle cx="102.95" cy="562.78" r="1.5" fill="#1d4f9e"/>
<circle cx="104.05" cy="569.1" r="1.5" fill="#1d4f9e"/>
<rect x="109.1" y="543.19" width="7.4" height="49.61" fill="#c3df98" stroke="#8cc34f" stroke-width="0.7"/>
<line x1="112.8" y1="541.29" x2="112.8" y2="545.08" stroke="#8cc34f" stroke-width="0.6"/>
<line x1="111.2" y1="541.29" x2="114.4" y2="541.29" stroke="#8cc34f" stroke-width="0.6"/>
<line x1="111.2" y1="545.08" x2="114.4" y2="545.08" stroke="#8cc34f" stroke-width="0.6"/>
<rect x="109.6" y="534.42" width="3" height="3" fill="#4c991c"/>
<rect x="111.5" y="540.74" width="3" height="3" fill="#4c991c"/>
<rect x="111.5" y="541.37" width="3" height="3" fill="#4c991c"/>
<rect x="111.5" y="543.9" width="3" height="3" fill="#4c991c"/>
<rect x="113.5" y="548.64" width="3" height="3" fill="#4c991c"/>
<line x1="107.65" y1="592.8" x2="107.65" y2="596" stroke="#222" stroke-width="0.9"/>
<text x="110.25" y="602.8" font-size="7.3" text-anchor="end" transform="rotate(-45 110.25 602.8)">PE P-18:0_18:1</text>
<line x1="101.2" y1="519.2" x2="114.2" y2="519.2" stroke="#333" stroke-width="1.2"/>
<text x="107.7" y="518.5" font-size="8.4" text-anchor="middle" fill="#000">***</text>
<rect x="126.45" y="559.94" width="7.4" height="32.86" fill="#8fb0dc" stroke="#5c88c8" stroke-width="0.7"/>
<line x1="130.15" y1="557.09" x2="130.15" y2="562.78" stroke="#5c88c8" stroke-width="0.6"/>
<line x1="128.55" y1="557.09" x2="131.75" y2="557.09" stroke="#5c88c8" stroke-width="0.6"/>
<line x1="128.55" y1="562.78" x2="131.75" y2="562.78" stroke="#5c88c8" stroke-width="0.6"/>
<circle cx="130.55" cy="551.09" r="1.5" fill="#1d4f9e"/>
<circle cx="129.95" cy="554.88" r="1.5" fill="#1d4f9e"/>
<circle cx="130.45" cy="561.2" r="1.5" fill="#1d4f9e"/>
<circle cx="131.55" cy="564.36" r="1.5" fill="#1d4f9e"/>
<circle cx="128.95" cy="569.1" r="1.5" fill="#1d4f9e"/>
<rect x="136.6" y="551.09" width="7.4" height="41.71" fill="#c3df98" stroke="#8cc34f" stroke-width="0.7"/>
<line x1="140.3" y1="549.19" x2="140.3" y2="552.98" stroke="#8cc34f" stroke-width="0.6"/>
<line x1="138.7" y1="549.19" x2="141.9" y2="549.19" stroke="#8cc34f" stroke-width="0.6"/>
<line x1="138.7" y1="552.98" x2="141.9" y2="552.98" stroke="#8cc34f" stroke-width="0.6"/>
<rect x="139" y="543.9" width="3" height="3" fill="#4c991c"/>
<rect x="139" y="546.43" width="3" height="3" fill="#4c991c"/>
<rect x="139" y="549.59" width="3" height="3" fill="#4c991c"/>
<rect x="141" y="551.8" width="3" height="3" fill="#4c991c"/>
<rect x="137.1" y="554.01" width="3" height="3" fill="#4c991c"/>
<line x1="135.15" y1="592.8" x2="135.15" y2="596" stroke="#222" stroke-width="0.9"/>
<text x="137.75" y="602.8" font-size="7.3" text-anchor="end" transform="rotate(-45 137.75 602.8)">PE O-18:0_18:1</text>
<line x1="129" y1="524.8" x2="142" y2="524.8" stroke="#333" stroke-width="1.2"/>
<text x="135.5" y="524.1" font-size="8.4" text-anchor="middle" fill="#000">**</text>
<text x="248.6" y="494.6" font-size="6.9" text-anchor="middle" font-weight="bold">PE-PUFAs</text>
<line x1="200.5" y1="516.5" x2="200.5" y2="593.3" stroke="#222" stroke-width="1"/>
<line x1="200" y1="592.8" x2="305.5" y2="592.8" stroke="#222" stroke-width="1"/>
<line x1="198.3" y1="592.8" x2="200.5" y2="592.8" stroke="#222" stroke-width="0.9"/>
<text x="196.1" y="595.4" font-size="7.4" text-anchor="end">0.0</text>
<line x1="198.3" y1="567.5" x2="200.5" y2="567.5" stroke="#222" stroke-width="0.9"/>
<text x="196.1" y="570.1" font-size="7.4" text-anchor="end">0.5</text>
<line x1="198.3" y1="542.2" x2="200.5" y2="542.2" stroke="#222" stroke-width="0.9"/>
<text x="196.1" y="544.8" font-size="7.4" text-anchor="end">1.0</text>
<line x1="198.3" y1="516.9" x2="200.5" y2="516.9" stroke="#222" stroke-width="0.9"/>
<text x="196.1" y="519.5" font-size="7.4" text-anchor="end">1.5</text>
<text x="181.2" y="552.8" font-size="8.3" text-anchor="middle" transform="rotate(-90 181.2 552.8)">Relative abundance</text>
<rect x="203.6" y="542.2" width="7.4" height="50.6" fill="#8fb0dc" stroke="#5c88c8" stroke-width="0.7"/>
<line x1="207.3" y1="537.14" x2="207.3" y2="547.26" stroke="#5c88c8" stroke-width="0.6"/>
<line x1="205.7" y1="537.14" x2="208.9" y2="537.14" stroke="#5c88c8" stroke-width="0.6"/>
<line x1="205.7" y1="547.26" x2="208.9" y2="547.26" stroke="#5c88c8" stroke-width="0.6"/>
<circle cx="207.3" cy="531.57" r="1.5" fill="#1d4f9e"/>
<circle cx="206.1" cy="537.65" r="1.5" fill="#1d4f9e"/>
<circle cx="209.2" cy="537.65" r="1.5" fill="#1d4f9e"/>
<circle cx="207.3" cy="547.01" r="1.5" fill="#1d4f9e"/>
<circle cx="207.3" cy="556.37" r="1.5" fill="#1d4f9e"/>
<rect x="213.8" y="570.08" width="7.4" height="22.72" fill="#c3df98" stroke="#8cc34f" stroke-width="0.7"/>
<line x1="217.5" y1="566.54" x2="217.5" y2="573.62" stroke="#8cc34f" stroke-width="0.6"/>
<line x1="215.9" y1="566.54" x2="219.1" y2="566.54" stroke="#8cc34f" stroke-width="0.6"/>
<line x1="215.9" y1="573.62" x2="219.1" y2="573.62" stroke="#8cc34f" stroke-width="0.6"/>
<rect x="216" y="558.41" width="3" height="3" fill="#4c991c"/>
<rect x="214.3" y="564.48" width="3" height="3" fill="#4c991c"/>
<rect x="217.9" y="565.75" width="3" height="3" fill="#4c991c"/>
<rect x="217.9" y="576.12" width="3" height="3" fill="#4c991c"/>
<rect x="214.3" y="578.65" width="3" height="3" fill="#4c991c"/>
<line x1="212.4" y1="592.8" x2="212.4" y2="596" stroke="#222" stroke-width="0.9"/>
<text x="215.2" y="603.1" font-size="7.3" text-anchor="end" transform="rotate(-45 215.2 603.1)">PE 16:1_20:4</text>
<line x1="203.3" y1="520.3" x2="216.6" y2="520.3" stroke="#333" stroke-width="1.2"/>
<text x="209.95" y="519.6" font-size="8.4" text-anchor="middle" fill="#000">***</text>
<rect x="230.7" y="542.2" width="7.4" height="50.6" fill="#8fb0dc" stroke="#5c88c8" stroke-width="0.7"/>
<line x1="234.4" y1="537.65" x2="234.4" y2="546.75" stroke="#5c88c8" stroke-width="0.6"/>
<line x1="232.8" y1="537.65" x2="236" y2="537.65" stroke="#5c88c8" stroke-width="0.6"/>
<line x1="232.8" y1="546.75" x2="236" y2="546.75" stroke="#5c88c8" stroke-width="0.6"/>
<circle cx="234.3" cy="528.03" r="1.5" fill="#1d4f9e"/>
<circle cx="234.6" cy="537.14" r="1.5" fill="#1d4f9e"/>
<circle cx="234.3" cy="545.24" r="1.5" fill="#1d4f9e"/>
<circle cx="236.1" cy="549.03" r="1.5" fill="#1d4f9e"/>
<circle cx="232.4" cy="552.32" r="1.5" fill="#1d4f9e"/>
<rect x="240.9" y="563.45" width="7.4" height="29.35" fill="#c3df98" stroke="#8cc34f" stroke-width="0.7"/>
<line x1="244.6" y1="558.39" x2="244.6" y2="568.51" stroke="#8cc34f" stroke-width="0.6"/>
<line x1="243" y1="558.39" x2="246.2" y2="558.39" stroke="#8cc34f" stroke-width="0.6"/>
<line x1="243" y1="568.51" x2="246.2" y2="568.51" stroke="#8cc34f" stroke-width="0.6"/>
<rect x="245.1" y="549.3" width="3" height="3" fill="#4c991c"/>
<rect x="241.7" y="552.34" width="3" height="3" fill="#4c991c"/>
<rect x="245.1" y="567.01" width="3" height="3" fill="#4c991c"/>
<rect x="241.7" y="562.96" width="3" height="3" fill="#4c991c"/>
<rect x="243.7" y="576.12" width="3" height="3" fill="#4c991c"/>
<line x1="239.5" y1="592.8" x2="239.5" y2="596" stroke="#222" stroke-width="0.9"/>
<text x="242.3" y="603.1" font-size="7.3" text-anchor="end" transform="rotate(-45 242.3 603.1)">PE 16:0_20:4</text>
<line x1="232.3" y1="520.3" x2="245.6" y2="520.3" stroke="#333" stroke-width="1.2"/>
<text x="238.95" y="519.6" font-size="8.4" text-anchor="middle" fill="#000">***</text>
<rect x="257.8" y="542.2" width="7.4" height="50.6" fill="#8fb0dc" stroke="#5c88c8" stroke-width="0.7"/>
<line x1="261.5" y1="537.65" x2="261.5" y2="546.75" stroke="#5c88c8" stroke-width="0.6"/>
<line x1="259.9" y1="537.65" x2="263.1" y2="537.65" stroke="#5c88c8" stroke-width="0.6"/>
<line x1="259.9" y1="546.75" x2="263.1" y2="546.75" stroke="#5c88c8" stroke-width="0.6"/>
<circle cx="261.7" cy="528.54" r="1.5" fill="#1d4f9e"/>
<circle cx="261.9" cy="533.6" r="1.5" fill="#1d4f9e"/>
<circle cx="260" cy="544.73" r="1.5" fill="#1d4f9e"/>
<circle cx="263" cy="548.78" r="1.5" fill="#1d4f9e"/>
<circle cx="261.5" cy="552.32" r="1.5" fill="#1d4f9e"/>
<rect x="268" y="556.87" width="7.4" height="35.93" fill="#c3df98" stroke="#8cc34f" stroke-width="0.7"/>
<line x1="271.7" y1="553.33" x2="271.7" y2="560.42" stroke="#8cc34f" stroke-width="0.6"/>
<line x1="270.1" y1="553.33" x2="273.3" y2="553.33" stroke="#8cc34f" stroke-width="0.6"/>
<line x1="270.1" y1="560.42" x2="273.3" y2="560.42" stroke="#8cc34f" stroke-width="0.6"/>
<rect x="269.7" y="548.29" width="3" height="3" fill="#4c991c"/>
<rect x="271.6" y="550.82" width="3" height="3" fill="#4c991c"/>
<rect x="270.5" y="554.87" width="3" height="3" fill="#4c991c"/>
<rect x="271.8" y="559.93" width="3" height="3" fill="#4c991c"/>
<rect x="269.9" y="566" width="3" height="3" fill="#4c991c"/>
<line x1="266.6" y1="592.8" x2="266.6" y2="596" stroke="#222" stroke-width="0.9"/>
<text x="269.4" y="603.1" font-size="7.3" text-anchor="end" transform="rotate(-45 269.4 603.1)">PE 18:0_20:4</text>
<line x1="258.8" y1="520.3" x2="272.2" y2="520.3" stroke="#333" stroke-width="1.2"/>
<text x="265.5" y="519.6" font-size="8.4" text-anchor="middle" fill="#000">**</text>
<rect x="284.9" y="542.2" width="7.4" height="50.6" fill="#8fb0dc" stroke="#5c88c8" stroke-width="0.7"/>
<line x1="288.6" y1="537.65" x2="288.6" y2="546.75" stroke="#5c88c8" stroke-width="0.6"/>
<line x1="287" y1="537.65" x2="290.2" y2="537.65" stroke="#5c88c8" stroke-width="0.6"/>
<line x1="287" y1="546.75" x2="290.2" y2="546.75" stroke="#5c88c8" stroke-width="0.6"/>
<circle cx="288.1" cy="532.08" r="1.5" fill="#1d4f9e"/>
<circle cx="289.8" cy="536.13" r="1.5" fill="#1d4f9e"/>
<circle cx="287" cy="543.21" r="1.5" fill="#1d4f9e"/>
<circle cx="289.4" cy="548.27" r="1.5" fill="#1d4f9e"/>
<circle cx="288.4" cy="553.84" r="1.5" fill="#1d4f9e"/>
<rect x="295.1" y="555.86" width="7.4" height="36.94" fill="#c3df98" stroke="#8cc34f" stroke-width="0.7"/>
<line x1="298.8" y1="553.33" x2="298.8" y2="558.39" stroke="#8cc34f" stroke-width="0.6"/>
<line x1="297.2" y1="553.33" x2="300.4" y2="553.33" stroke="#8cc34f" stroke-width="0.6"/>
<line x1="297.2" y1="558.39" x2="300.4" y2="558.39" stroke="#8cc34f" stroke-width="0.6"/>
<rect x="298.8" y="549.81" width="3" height="3" fill="#4c991c"/>
<rect x="296.1" y="551.83" width="3" height="3" fill="#4c991c"/>
<rect x="297.8" y="553.86" width="3" height="3" fill="#4c991c"/>
<rect x="295.8" y="555.88" width="3" height="3" fill="#4c991c"/>
<rect x="298.1" y="558.41" width="3" height="3" fill="#4c991c"/>
<line x1="293.7" y1="592.8" x2="293.7" y2="596" stroke="#222" stroke-width="0.9"/>
<text x="296.5" y="603.1" font-size="7.3" text-anchor="end" transform="rotate(-45 296.5 603.1)">PE P-18:0_20:4</text>
<line x1="287" y1="520.3" x2="300.4" y2="520.3" stroke="#333" stroke-width="1.2"/>
<text x="293.7" y="519.6" font-size="8.4" text-anchor="middle" fill="#000">*</text>
<text x="333.3" y="486" font-size="12.5" font-weight="bold" fill="#000">I</text>
<rect x="376.2" y="493.6" width="5.9" height="4.4" fill="#9ebbe3" stroke="#4270b8" stroke-width="1"/>
<text x="385.4" y="498" font-size="7.1">gCtrl</text>
<rect x="438.9" y="493.6" width="6" height="4.4" fill="#c9e3a2" stroke="#6fae3a" stroke-width="1"/>
<text x="448.8" y="498" font-size="7.1">gMBOAT1</text>
<line x1="357.4" y1="512.3" x2="357.4" y2="594.8" stroke="#444" stroke-width="1.2"/>
<line x1="356.8" y1="594.2" x2="497.3" y2="594.2" stroke="#444" stroke-width="1.2"/>
<line x1="354.8" y1="594.2" x2="357.4" y2="594.2" stroke="#444" stroke-width="0.9"/>
<text x="353.2" y="596.7" font-size="7" text-anchor="end">0</text>
<line x1="354.8" y1="579.33" x2="357.4" y2="579.33" stroke="#444" stroke-width="0.9"/>
<text x="353.2" y="581.83" font-size="7" text-anchor="end">20</text>
<line x1="354.8" y1="564.46" x2="357.4" y2="564.46" stroke="#444" stroke-width="0.9"/>
<text x="353.2" y="566.96" font-size="7" text-anchor="end">40</text>
<line x1="354.8" y1="549.59" x2="357.4" y2="549.59" stroke="#444" stroke-width="0.9"/>
<text x="353.2" y="552.09" font-size="7" text-anchor="end">60</text>
<line x1="354.8" y1="534.72" x2="357.4" y2="534.72" stroke="#444" stroke-width="0.9"/>
<text x="353.2" y="537.22" font-size="7" text-anchor="end">80</text>
<line x1="354.8" y1="519.85" x2="357.4" y2="519.85" stroke="#444" stroke-width="0.9"/>
<text x="353.2" y="522.35" font-size="7" text-anchor="end">100</text>
<text x="338.8" y="556" font-size="7.3" text-anchor="middle" transform="rotate(-90 338.8 556)">Cell death (%)</text>
<rect x="361.1" y="587.06" width="6.9" height="7.14" fill="#8fb0dc" stroke="#4f7ec2" stroke-width="0.8"/>
<line x1="364.55" y1="584.83" x2="364.55" y2="589.29" stroke="#1d4f9e" stroke-width="0.8"/>
<line x1="362.75" y1="584.83" x2="366.35" y2="584.83" stroke="#1d4f9e" stroke-width="0.8"/>
<line x1="362.75" y1="589.29" x2="366.35" y2="589.29" stroke="#1d4f9e" stroke-width="0.8"/>
<circle cx="362.95" cy="584.53" r="1.4" fill="#1d4f9e"/>
<circle cx="365.75" cy="586.02" r="1.4" fill="#1d4f9e"/>
<circle cx="364.75" cy="587.14" r="1.4" fill="#1d4f9e"/>
<circle cx="363.55" cy="588.25" r="1.4" fill="#1d4f9e"/>
<circle cx="365.95" cy="589" r="1.4" fill="#1d4f9e"/>
<rect x="371.7" y="548.85" width="6.9" height="45.35" fill="#c3df98" stroke="#7db843" stroke-width="0.8"/>
<line x1="375.15" y1="541.41" x2="375.15" y2="556.28" stroke="#3f8f1f" stroke-width="0.8"/>
<line x1="373.35" y1="541.41" x2="376.95" y2="541.41" stroke="#3f8f1f" stroke-width="0.8"/>
<line x1="373.35" y1="556.28" x2="376.95" y2="556.28" stroke="#3f8f1f" stroke-width="0.8"/>
<rect x="374" y="539.32" width="2.7" height="2.7" fill="#3f8f1f"/>
<rect x="371.9" y="547.5" width="2.7" height="2.7" fill="#3f8f1f"/>
<rect x="376" y="547.5" width="2.7" height="2.7" fill="#3f8f1f"/>
<rect x="374" y="551.21" width="2.7" height="2.7" fill="#3f8f1f"/>
<rect x="374" y="554.93" width="2.7" height="2.7" fill="#3f8f1f"/>
<rect x="374" y="557.91" width="2.7" height="2.7" fill="#3f8f1f"/>
<line x1="369.85" y1="594.2" x2="369.85" y2="596.8" stroke="#444" stroke-width="0.9"/>
<text x="369.55" y="603.1" font-size="7" text-anchor="middle">0.1</text>
<line x1="362.6" y1="530.8" x2="375.8" y2="530.8" stroke="#333" stroke-width="1.2"/>
<text x="369.2" y="531.1" font-size="7.8" text-anchor="middle" fill="#000">***</text>
<rect x="389.3" y="583.27" width="6.9" height="10.93" fill="#8fb0dc" stroke="#4f7ec2" stroke-width="0.8"/>
<line x1="392.75" y1="579.55" x2="392.75" y2="586.99" stroke="#1d4f9e" stroke-width="0.8"/>
<line x1="390.95" y1="579.55" x2="394.55" y2="579.55" stroke="#1d4f9e" stroke-width="0.8"/>
<line x1="390.95" y1="586.99" x2="394.55" y2="586.99" stroke="#1d4f9e" stroke-width="0.8"/>
<circle cx="394.35" cy="580.07" r="1.4" fill="#1d4f9e"/>
<circle cx="391.75" cy="581.19" r="1.4" fill="#1d4f9e"/>
<circle cx="393.55" cy="583.05" r="1.4" fill="#1d4f9e"/>
<circle cx="391.35" cy="585.28" r="1.4" fill="#1d4f9e"/>
<circle cx="393.35" cy="587.51" r="1.4" fill="#1d4f9e"/>
<rect x="399.9" y="535.46" width="6.9" height="58.74" fill="#c3df98" stroke="#7db843" stroke-width="0.8"/>
<line x1="403.35" y1="530.26" x2="403.35" y2="540.67" stroke="#3f8f1f" stroke-width="0.8"/>
<line x1="401.55" y1="530.26" x2="405.15" y2="530.26" stroke="#3f8f1f" stroke-width="0.8"/>
<line x1="401.55" y1="540.67" x2="405.15" y2="540.67" stroke="#3f8f1f" stroke-width="0.8"/>
<rect x="402.3" y="528.91" width="2.7" height="2.7" fill="#3f8f1f"/>
<rect x="403.6" y="531.14" width="2.7" height="2.7" fill="#3f8f1f"/>
<rect x="400.5" y="533.37" width="2.7" height="2.7" fill="#3f8f1f"/>
<rect x="402.3" y="536.34" width="2.7" height="2.7" fill="#3f8f1f"/>
<rect x="402.6" y="540.81" width="2.7" height="2.7" fill="#3f8f1f"/>
<line x1="398.05" y1="594.2" x2="398.05" y2="596.8" stroke="#444" stroke-width="0.9"/>
<text x="397.75" y="603.1" font-size="7" text-anchor="middle">0.2</text>
<line x1="391.1" y1="524.2" x2="404.2" y2="524.2" stroke="#333" stroke-width="1.2"/>
<text x="397.65" y="524.5" font-size="7.8" text-anchor="middle" fill="#000">***</text>
<rect x="417.5" y="579.33" width="6.9" height="14.87" fill="#8fb0dc" stroke="#4f7ec2" stroke-width="0.8"/>
<line x1="420.95" y1="575.61" x2="420.95" y2="583.05" stroke="#1d4f9e" stroke-width="0.8"/>
<line x1="419.15" y1="575.61" x2="422.75" y2="575.61" stroke="#1d4f9e" stroke-width="0.8"/>
<line x1="419.15" y1="583.05" x2="422.75" y2="583.05" stroke="#1d4f9e" stroke-width="0.8"/>
<circle cx="419.45" cy="574.87" r="1.4" fill="#1d4f9e"/>
<circle cx="422.45" cy="576.36" r="1.4" fill="#1d4f9e"/>
<circle cx="420.95" cy="579.33" r="1.4" fill="#1d4f9e"/>
<circle cx="419.75" cy="581.19" r="1.4" fill="#1d4f9e"/>
<circle cx="422.25" cy="581.93" r="1.4" fill="#1d4f9e"/>
<rect x="428.1" y="531" width="6.9" height="63.2" fill="#c3df98" stroke="#7db843" stroke-width="0.8"/>
<line x1="431.55" y1="526.54" x2="431.55" y2="535.46" stroke="#3f8f1f" stroke-width="0.8"/>
<line x1="429.75" y1="526.54" x2="433.35" y2="526.54" stroke="#3f8f1f" stroke-width="0.8"/>
<line x1="429.75" y1="535.46" x2="433.35" y2="535.46" stroke="#3f8f1f" stroke-width="0.8"/>
<rect x="430.7" y="524.45" width="2.7" height="2.7" fill="#3f8f1f"/>
<rect x="429" y="526.68" width="2.7" height="2.7" fill="#3f8f1f"/>
<rect x="431.7" y="528.91" width="2.7" height="2.7" fill="#3f8f1f"/>
<rect x="429.6" y="531.51" width="2.7" height="2.7" fill="#3f8f1f"/>
<rect x="431.4" y="533" width="2.7" height="2.7" fill="#3f8f1f"/>
<line x1="426.25" y1="594.2" x2="426.25" y2="596.8" stroke="#444" stroke-width="0.9"/>
<text x="425.95" y="603.1" font-size="7" text-anchor="middle">0.3</text>
<line x1="417.7" y1="518.2" x2="431.5" y2="518.2" stroke="#333" stroke-width="1.2"/>
<text x="424.6" y="518.5" font-size="7.8" text-anchor="middle" fill="#000">***</text>
<rect x="445.9" y="577.1" width="6.9" height="17.1" fill="#8fb0dc" stroke="#4f7ec2" stroke-width="0.8"/>
<line x1="449.35" y1="574.13" x2="449.35" y2="580.07" stroke="#1d4f9e" stroke-width="0.8"/>
<line x1="447.55" y1="574.13" x2="451.15" y2="574.13" stroke="#1d4f9e" stroke-width="0.8"/>
<line x1="447.55" y1="580.07" x2="451.15" y2="580.07" stroke="#1d4f9e" stroke-width="0.8"/>
<circle cx="448.15" cy="573.38" r="1.4" fill="#1d4f9e"/>
<circle cx="450.55" cy="574.13" r="1.4" fill="#1d4f9e"/>
<circle cx="449.35" cy="576.73" r="1.4" fill="#1d4f9e"/>
<circle cx="447.95" cy="578.59" r="1.4" fill="#1d4f9e"/>
<circle cx="450.55" cy="579.33" r="1.4" fill="#1d4f9e"/>
<rect x="456.5" y="525.8" width="6.9" height="68.4" fill="#c3df98" stroke="#7db843" stroke-width="0.8"/>
<line x1="459.95" y1="522.08" x2="459.95" y2="529.52" stroke="#3f8f1f" stroke-width="0.8"/>
<line x1="458.15" y1="522.08" x2="461.75" y2="522.08" stroke="#3f8f1f" stroke-width="0.8"/>
<line x1="458.15" y1="529.52" x2="461.75" y2="529.52" stroke="#3f8f1f" stroke-width="0.8"/>
<rect x="457.8" y="520.73" width="2.7" height="2.7" fill="#3f8f1f"/>
<rect x="459.9" y="522.22" width="2.7" height="2.7" fill="#3f8f1f"/>
<rect x="458.6" y="524.45" width="2.7" height="2.7" fill="#3f8f1f"/>
<rect x="457.4" y="527.42" width="2.7" height="2.7" fill="#3f8f1f"/>
<rect x="459.2" y="530.4" width="2.7" height="2.7" fill="#3f8f1f"/>
<line x1="454.65" y1="594.2" x2="454.65" y2="596.8" stroke="#444" stroke-width="0.9"/>
<text x="454.35" y="603.1" font-size="7" text-anchor="middle">0.4</text>
<line x1="447" y1="514.6" x2="459.6" y2="514.6" stroke="#333" stroke-width="1.2"/>
<text x="453.3" y="514.9" font-size="7.8" text-anchor="middle" fill="#000">***</text>
<rect x="474" y="560.74" width="6.9" height="33.46" fill="#8fb0dc" stroke="#4f7ec2" stroke-width="0.8"/>
<line x1="477.45" y1="554.05" x2="477.45" y2="567.43" stroke="#1d4f9e" stroke-width="0.8"/>
<line x1="475.65" y1="554.05" x2="479.25" y2="554.05" stroke="#1d4f9e" stroke-width="0.8"/>
<line x1="475.65" y1="567.43" x2="479.25" y2="567.43" stroke="#1d4f9e" stroke-width="0.8"/>
<circle cx="476.85" cy="552.56" r="1.4" fill="#1d4f9e"/>
<circle cx="478.75" cy="557.03" r="1.4" fill="#1d4f9e"/>
<circle cx="477.45" cy="560.74" r="1.4" fill="#1d4f9e"/>
<circle cx="476.25" cy="564.46" r="1.4" fill="#1d4f9e"/>
<circle cx="478.25" cy="568.18" r="1.4" fill="#1d4f9e"/>
<rect x="484.7" y="525.8" width="6.9" height="68.4" fill="#c3df98" stroke="#7db843" stroke-width="0.8"/>
<line x1="488.15" y1="522.82" x2="488.15" y2="528.77" stroke="#3f8f1f" stroke-width="0.8"/>
<line x1="486.35" y1="522.82" x2="489.95" y2="522.82" stroke="#3f8f1f" stroke-width="0.8"/>
<line x1="486.35" y1="528.77" x2="489.95" y2="528.77" stroke="#3f8f1f" stroke-width="0.8"/>
<rect x="487.6" y="521.47" width="2.7" height="2.7" fill="#3f8f1f"/>
<rect x="485.5" y="522.59" width="2.7" height="2.7" fill="#3f8f1f"/>
<rect x="488.2" y="524.08" width="2.7" height="2.7" fill="#3f8f1f"/>
<rect x="486.3" y="525.56" width="2.7" height="2.7" fill="#3f8f1f"/>
<rect x="487.2" y="528.17" width="2.7" height="2.7" fill="#3f8f1f"/>
<line x1="482.8" y1="594.2" x2="482.8" y2="596.8" stroke="#444" stroke-width="0.9"/>
<text x="482.5" y="603.1" font-size="7" text-anchor="middle">0.5</text>
<line x1="477.7" y1="516.5" x2="489.2" y2="516.5" stroke="#333" stroke-width="1.2"/>
<text x="483.45" y="516.8" font-size="7.8" text-anchor="middle" fill="#000">***</text>
<text x="426.5" y="614" font-size="7.1" text-anchor="middle">RSL3 (µmol/L)</text>
</svg>
</body></html>
